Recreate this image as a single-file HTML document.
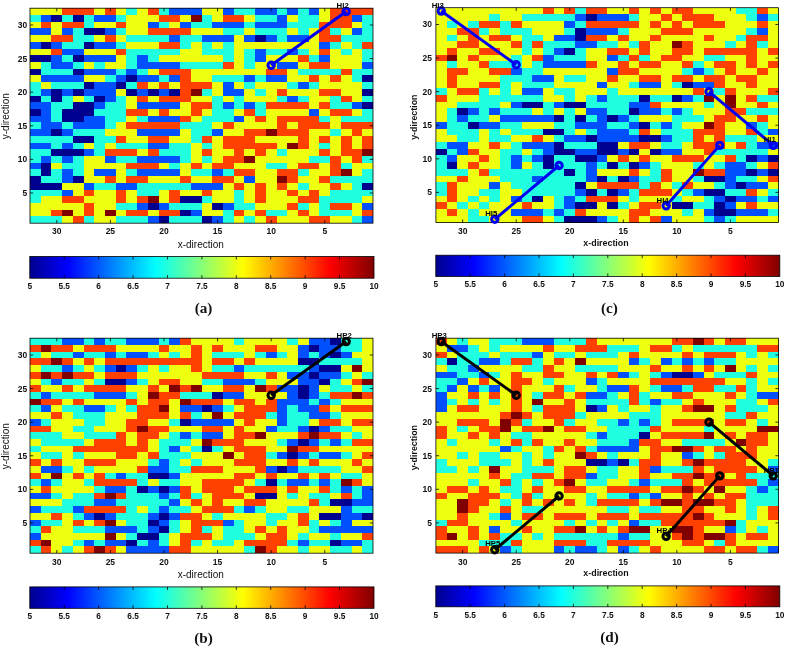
<!DOCTYPE html>
<html><head><meta charset="utf-8"><title>figure</title><style>html,body{margin:0;padding:0;background:#fff}svg{display:block;filter:blur(0.35px)}</style></head><body>
<svg width="785" height="647" viewBox="0 0 785 647">
<defs><linearGradient id="jet" x1="0" x2="1" y1="0" y2="0"><stop offset="0" stop-color="#00008f"/><stop offset="0.111" stop-color="#0000ff"/><stop offset="0.365" stop-color="#00ffff"/><stop offset="0.619" stop-color="#ffff00"/><stop offset="0.873" stop-color="#ff0000"/><stop offset="1" stop-color="#800000"/></linearGradient></defs>
<rect width="785" height="647" fill="#fff"/>
<g shape-rendering="crispEdges">
<rect x="30" y="8.2" width="343" height="215" fill="#efff10"/>
<path fill="#20ffdf" d="M126.47 8.2H137.19V14.92H126.47zM158.62 8.2H169.34V14.92H158.62zM233.66 8.2H255.09V14.92H233.66zM276.53 8.2H287.25V14.92H276.53zM297.97 8.2H308.69V14.92H297.97zM30 14.92H40.72V21.64H30zM62.16 14.92H72.88V21.64H62.16zM83.59 14.92H94.31V21.64H83.59zM115.75 14.92H126.47V21.64H115.75zM201.5 14.92H212.22V21.64H201.5zM255.09 14.92H276.53V21.64H255.09zM297.97 14.92H319.41V21.64H297.97zM362.28 14.92H373V21.64H362.28zM83.59 21.64H94.31V28.36H83.59zM158.62 21.64H169.34V28.36H158.62zM190.78 21.64H212.22V28.36H190.78zM244.38 21.64H255.09V28.36H244.38zM287.25 21.64H319.41V28.36H287.25zM362.28 21.64H373V28.36H362.28zM72.88 28.36H83.59V35.08H72.88zM115.75 28.36H126.47V35.08H115.75zM222.94 28.36H244.38V35.08H222.94zM255.09 28.36H287.25V35.08H255.09zM297.97 28.36H308.69V35.08H297.97zM330.12 28.36H340.84V35.08H330.12zM362.28 28.36H373V35.08H362.28zM72.88 35.08H94.31V41.79H72.88zM126.47 35.08H169.34V41.79H126.47zM180.06 35.08H201.5V41.79H180.06zM276.53 35.08H287.25V41.79H276.53zM340.84 35.08H373V41.79H340.84zM62.16 41.79H83.59V48.51H62.16zM115.75 41.79H126.47V48.51H115.75zM180.06 41.79H190.78V48.51H180.06zM201.5 41.79H212.22V48.51H201.5zM222.94 41.79H233.66V48.51H222.94zM330.12 41.79H340.84V48.51H330.12zM351.56 41.79H362.28V48.51H351.56zM126.47 48.51H180.06V55.23H126.47zM201.5 48.51H233.66V55.23H201.5zM244.38 48.51H255.09V55.23H244.38zM265.81 48.51H287.25V55.23H265.81zM297.97 48.51H308.69V55.23H297.97zM340.84 48.51H351.56V55.23H340.84zM362.28 48.51H373V55.23H362.28zM62.16 55.23H72.88V61.95H62.16zM126.47 55.23H137.19V61.95H126.47zM147.91 55.23H158.62V61.95H147.91zM222.94 55.23H233.66V61.95H222.94zM244.38 55.23H255.09V61.95H244.38zM308.69 55.23H319.41V61.95H308.69zM362.28 55.23H373V61.95H362.28zM40.72 61.95H51.44V68.67H40.72zM72.88 61.95H83.59V68.67H72.88zM94.31 61.95H105.03V68.67H94.31zM126.47 61.95H137.19V68.67H126.47zM180.06 61.95H222.94V68.67H180.06zM244.38 61.95H255.09V68.67H244.38zM40.72 68.67H72.88V75.39H40.72zM115.75 68.67H126.47V75.39H115.75zM137.19 68.67H147.91V75.39H137.19zM297.97 68.67H340.84V75.39H297.97zM351.56 68.67H373V75.39H351.56zM105.03 75.39H115.75V82.11H105.03zM158.62 75.39H169.34V82.11H158.62zM212.22 75.39H244.38V82.11H212.22zM255.09 75.39H265.81V82.11H255.09zM351.56 75.39H362.28V82.11H351.56zM30 82.11H40.72V88.83H30zM51.44 82.11H83.59V88.83H51.44zM126.47 82.11H137.19V88.83H126.47zM244.38 82.11H255.09V88.83H244.38zM287.25 82.11H297.97V88.83H287.25zM308.69 82.11H319.41V88.83H308.69zM362.28 82.11H373V88.83H362.28zM30 88.83H40.72V95.54H30zM201.5 88.83H212.22V95.54H201.5zM255.09 88.83H265.81V95.54H255.09zM40.72 95.54H51.44V102.26H40.72zM62.16 95.54H72.88V102.26H62.16zM83.59 95.54H94.31V102.26H83.59zM115.75 95.54H126.47V102.26H115.75zM212.22 95.54H222.94V102.26H212.22zM233.66 95.54H244.38V102.26H233.66zM276.53 95.54H287.25V102.26H276.53zM297.97 95.54H308.69V102.26H297.97zM330.12 95.54H340.84V102.26H330.12zM362.28 95.54H373V102.26H362.28zM51.44 102.26H72.88V108.98H51.44zM105.03 102.26H126.47V108.98H105.03zM212.22 102.26H222.94V108.98H212.22zM233.66 102.26H244.38V108.98H233.66zM255.09 102.26H265.81V108.98H255.09zM330.12 102.26H351.56V108.98H330.12zM51.44 108.98H62.16V115.7H51.44zM94.31 108.98H126.47V115.7H94.31zM212.22 108.98H233.66V115.7H212.22zM255.09 108.98H265.81V115.7H255.09zM362.28 108.98H373V115.7H362.28zM51.44 115.7H62.16V122.42H51.44zM105.03 115.7H126.47V122.42H105.03zM137.19 115.7H147.91V122.42H137.19zM201.5 115.7H233.66V122.42H201.5zM319.41 115.7H330.12V122.42H319.41zM340.84 115.7H373V122.42H340.84zM30 122.42H40.72V129.14H30zM62.16 122.42H72.88V129.14H62.16zM105.03 122.42H115.75V129.14H105.03zM180.06 122.42H212.22V129.14H180.06zM72.88 129.14H105.03V135.86H72.88zM190.78 129.14H212.22V135.86H190.78zM330.12 129.14H340.84V135.86H330.12zM30 135.86H72.88V142.57H30zM94.31 135.86H115.75V142.57H94.31zM190.78 135.86H201.5V142.57H190.78zM51.44 142.57H62.16V149.29H51.44zM72.88 142.57H83.59V149.29H72.88zM94.31 142.57H105.03V149.29H94.31zM115.75 142.57H147.91V149.29H115.75zM169.34 142.57H190.78V149.29H169.34zM201.5 142.57H212.22V149.29H201.5zM319.41 142.57H330.12V149.29H319.41zM30 149.29H51.44V156.01H30zM94.31 149.29H105.03V156.01H94.31zM158.62 149.29H190.78V156.01H158.62zM276.53 149.29H287.25V156.01H276.53zM30 156.01H40.72V162.73H30zM51.44 156.01H62.16V162.73H51.44zM72.88 156.01H83.59V162.73H72.88zM115.75 156.01H137.19V162.73H115.75zM180.06 156.01H190.78V162.73H180.06zM201.5 156.01H212.22V162.73H201.5zM308.69 156.01H330.12V162.73H308.69zM362.28 156.01H373V162.73H362.28zM62.16 162.73H83.59V169.45H62.16zM169.34 162.73H180.06V169.45H169.34zM265.81 162.73H287.25V169.45H265.81zM340.84 162.73H351.56V169.45H340.84zM30 169.45H40.72V176.17H30zM51.44 169.45H62.16V176.17H51.44zM72.88 169.45H83.59V176.17H72.88zM126.47 169.45H137.19V176.17H126.47zM190.78 169.45H212.22V176.17H190.78zM222.94 169.45H233.66V176.17H222.94zM297.97 169.45H308.69V176.17H297.97zM362.28 169.45H373V176.17H362.28zM40.72 176.17H62.16V182.89H40.72zM330.12 176.17H373V182.89H330.12zM94.31 182.89H115.75V189.61H94.31zM137.19 182.89H190.78V189.61H137.19zM297.97 182.89H308.69V189.61H297.97zM351.56 182.89H362.28V189.61H351.56zM30 189.61H62.16V196.32H30zM137.19 189.61H158.62V196.32H137.19zM233.66 189.61H244.38V196.32H233.66zM330.12 189.61H373V196.32H330.12zM30 196.32H40.72V203.04H30zM201.5 196.32H212.22V203.04H201.5zM233.66 196.32H244.38V203.04H233.66zM319.41 196.32H362.28V203.04H319.41zM115.75 203.04H137.19V209.76H115.75zM169.34 203.04H201.5V209.76H169.34zM233.66 203.04H255.09V209.76H233.66zM297.97 203.04H308.69V209.76H297.97zM319.41 203.04H330.12V209.76H319.41zM222.94 209.76H233.66V216.48H222.94zM265.81 209.76H287.25V216.48H265.81zM319.41 209.76H351.56V216.48H319.41zM30 216.48H62.16V223.2H30zM83.59 216.48H94.31V223.2H83.59zM115.75 216.48H147.91V223.2H115.75zM169.34 216.48H201.5V223.2H169.34zM222.94 216.48H233.66V223.2H222.94zM244.38 216.48H255.09V223.2H244.38zM351.56 216.48H362.28V223.2H351.56z"/>
<path fill="#0050ff" d="M169.34 8.2H201.5V14.92H169.34zM222.94 8.2H233.66V14.92H222.94zM255.09 8.2H276.53V14.92H255.09zM287.25 8.2H297.97V14.92H287.25zM308.69 8.2H319.41V14.92H308.69zM40.72 14.92H51.44V21.64H40.72zM94.31 14.92H115.75V21.64H94.31zM276.53 14.92H287.25V21.64H276.53zM351.56 14.92H362.28V21.64H351.56zM147.91 21.64H158.62V28.36H147.91zM180.06 21.64H190.78V28.36H180.06zM212.22 21.64H244.38V28.36H212.22zM255.09 21.64H287.25V28.36H255.09zM30 28.36H51.44V35.08H30zM62.16 28.36H72.88V35.08H62.16zM105.03 28.36H115.75V35.08H105.03zM351.56 28.36H362.28V35.08H351.56zM169.34 35.08H180.06V41.79H169.34zM201.5 35.08H233.66V41.79H201.5zM244.38 35.08H255.09V41.79H244.38zM265.81 35.08H276.53V41.79H265.81zM287.25 35.08H308.69V41.79H287.25zM30 41.79H40.72V48.51H30zM51.44 41.79H62.16V48.51H51.44zM94.31 41.79H115.75V48.51H94.31zM319.41 41.79H330.12V48.51H319.41zM62.16 48.51H83.59V55.23H62.16zM255.09 48.51H265.81V55.23H255.09zM287.25 48.51H297.97V55.23H287.25zM51.44 55.23H62.16V61.95H51.44zM83.59 55.23H115.75V61.95H83.59zM137.19 55.23H147.91V61.95H137.19zM255.09 55.23H265.81V61.95H255.09zM319.41 55.23H330.12V61.95H319.41zM51.44 61.95H72.88V68.67H51.44zM137.19 61.95H180.06V68.67H137.19zM276.53 61.95H297.97V68.67H276.53zM362.28 61.95H373V68.67H362.28zM83.59 68.67H115.75V75.39H83.59zM126.47 68.67H137.19V75.39H126.47zM40.72 75.39H83.59V82.11H40.72zM115.75 75.39H126.47V82.11H115.75zM137.19 75.39H158.62V82.11H137.19zM169.34 75.39H180.06V82.11H169.34zM244.38 75.39H255.09V82.11H244.38zM265.81 75.39H287.25V82.11H265.81zM94.31 82.11H115.75V88.83H94.31zM222.94 82.11H233.66V88.83H222.94zM297.97 82.11H308.69V88.83H297.97zM40.72 88.83H51.44V95.54H40.72zM62.16 88.83H72.88V95.54H62.16zM83.59 88.83H115.75V95.54H83.59zM137.19 88.83H147.91V95.54H137.19zM158.62 88.83H169.34V95.54H158.62zM222.94 88.83H244.38V95.54H222.94zM105.03 95.54H115.75V102.26H105.03zM287.25 95.54H297.97V102.26H287.25zM30 102.26H51.44V108.98H30zM94.31 102.26H105.03V108.98H94.31zM137.19 102.26H180.06V108.98H137.19zM222.94 102.26H233.66V108.98H222.94zM244.38 102.26H255.09V108.98H244.38zM351.56 102.26H362.28V108.98H351.56zM40.72 108.98H51.44V115.7H40.72zM308.69 108.98H319.41V115.7H308.69zM30 115.7H51.44V122.42H30zM83.59 115.7H105.03V122.42H83.59zM147.91 115.7H180.06V122.42H147.91zM233.66 115.7H244.38V122.42H233.66zM40.72 122.42H62.16V129.14H40.72zM72.88 122.42H105.03V129.14H72.88zM30 129.14H51.44V135.86H30zM62.16 129.14H72.88V135.86H62.16zM137.19 129.14H180.06V135.86H137.19zM212.22 129.14H222.94V135.86H212.22zM30 142.57H51.44V149.29H30zM62.16 142.57H72.88V149.29H62.16zM147.91 142.57H169.34V149.29H147.91zM83.59 149.29H94.31V156.01H83.59zM40.72 156.01H51.44V162.73H40.72zM62.16 156.01H72.88V162.73H62.16zM105.03 156.01H115.75V162.73H105.03zM137.19 156.01H180.06V162.73H137.19zM30 162.73H40.72V169.45H30zM62.16 169.45H72.88V176.17H62.16zM94.31 169.45H115.75V176.17H94.31zM137.19 169.45H180.06V176.17H137.19zM212.22 169.45H222.94V176.17H212.22zM62.16 176.17H72.88V182.89H62.16zM244.38 176.17H255.09V182.89H244.38zM83.59 182.89H94.31V189.61H83.59zM115.75 182.89H137.19V189.61H115.75zM190.78 182.89H222.94V189.61H190.78zM62.16 189.61H72.88V196.32H62.16zM137.19 203.04H147.91V209.76H137.19zM158.62 203.04H169.34V209.76H158.62zM222.94 203.04H233.66V209.76H222.94zM362.28 203.04H373V209.76H362.28zM190.78 209.76H201.5V216.48H190.78zM147.91 216.48H158.62V223.2H147.91zM212.22 216.48H222.94V223.2H212.22zM362.28 216.48H373V223.2H362.28z"/>
<path fill="#00008f" d="M51.44 14.92H62.16V21.64H51.44zM72.88 14.92H83.59V21.64H72.88zM83.59 28.36H105.03V35.08H83.59zM255.09 35.08H265.81V41.79H255.09zM40.72 41.79H51.44V48.51H40.72zM83.59 41.79H94.31V48.51H83.59zM30 55.23H51.44V61.95H30zM72.88 55.23H83.59V61.95H72.88zM30 68.67H40.72V75.39H30zM72.88 68.67H83.59V75.39H72.88zM126.47 75.39H137.19V82.11H126.47zM362.28 75.39H373V82.11H362.28zM83.59 82.11H94.31V88.83H83.59zM115.75 82.11H126.47V88.83H115.75zM51.44 88.83H62.16V95.54H51.44zM72.88 88.83H83.59V95.54H72.88zM126.47 88.83H137.19V95.54H126.47zM147.91 88.83H158.62V95.54H147.91zM169.34 88.83H180.06V95.54H169.34zM362.28 88.83H373V95.54H362.28zM30 95.54H40.72V102.26H30zM51.44 95.54H62.16V102.26H51.44zM94.31 95.54H105.03V102.26H94.31zM72.88 102.26H94.31V108.98H72.88zM362.28 102.26H373V108.98H362.28zM30 108.98H40.72V115.7H30zM62.16 108.98H94.31V115.7H62.16zM62.16 115.7H83.59V122.42H62.16zM51.44 129.14H62.16V135.86H51.44zM72.88 135.86H94.31V142.57H72.88zM51.44 149.29H83.59V156.01H51.44zM40.72 162.73H51.44V169.45H40.72zM40.72 169.45H51.44V176.17H40.72zM30 176.17H40.72V182.89H30zM72.88 176.17H83.59V182.89H72.88zM30 182.89H62.16V189.61H30zM362.28 182.89H373V189.61H362.28zM180.06 196.32H201.5V203.04H180.06zM147.91 203.04H158.62V209.76H147.91zM212.22 203.04H222.94V209.76H212.22zM180.06 209.76H190.78V216.48H180.06zM158.62 216.48H169.34V223.2H158.62zM201.5 216.48H212.22V223.2H201.5z"/>
<path fill="#ff4000" d="M62.16 8.2H94.31V14.92H62.16zM105.03 8.2H115.75V14.92H105.03zM147.91 8.2H158.62V14.92H147.91zM330.12 8.2H373V14.92H330.12zM158.62 14.92H180.06V21.64H158.62zM222.94 14.92H244.38V21.64H222.94zM330.12 14.92H351.56V21.64H330.12zM40.72 21.64H51.44V28.36H40.72zM62.16 21.64H83.59V28.36H62.16zM115.75 21.64H126.47V28.36H115.75zM319.41 21.64H351.56V28.36H319.41zM147.91 28.36H190.78V35.08H147.91zM319.41 28.36H330.12V35.08H319.41zM51.44 35.08H72.88V41.79H51.44zM105.03 35.08H115.75V41.79H105.03zM319.41 35.08H340.84V41.79H319.41zM158.62 41.79H180.06V48.51H158.62zM362.28 41.79H373V48.51H362.28zM51.44 48.51H62.16V55.23H51.44zM115.75 48.51H126.47V55.23H115.75zM319.41 48.51H330.12V55.23H319.41zM297.97 55.23H308.69V61.95H297.97zM222.94 61.95H233.66V68.67H222.94zM308.69 61.95H330.12V68.67H308.69zM158.62 68.67H190.78V75.39H158.62zM265.81 68.67H287.25V75.39H265.81zM340.84 68.67H351.56V75.39H340.84zM180.06 75.39H190.78V82.11H180.06zM308.69 75.39H319.41V82.11H308.69zM330.12 75.39H340.84V82.11H330.12zM137.19 82.11H147.91V88.83H137.19zM158.62 82.11H169.34V88.83H158.62zM180.06 82.11H212.22V88.83H180.06zM180.06 88.83H190.78V95.54H180.06zM276.53 88.83H287.25V95.54H276.53zM319.41 88.83H340.84V95.54H319.41zM137.19 95.54H147.91V102.26H137.19zM158.62 95.54H190.78V102.26H158.62zM340.84 95.54H351.56V102.26H340.84zM190.78 102.26H212.22V108.98H190.78zM265.81 102.26H308.69V108.98H265.81zM319.41 102.26H330.12V108.98H319.41zM126.47 108.98H147.91V115.7H126.47zM158.62 108.98H169.34V115.7H158.62zM190.78 108.98H201.5V115.7H190.78zM244.38 108.98H255.09V115.7H244.38zM330.12 108.98H351.56V115.7H330.12zM180.06 115.7H190.78V122.42H180.06zM255.09 115.7H265.81V122.42H255.09zM276.53 115.7H319.41V122.42H276.53zM126.47 122.42H180.06V129.14H126.47zM222.94 122.42H233.66V129.14H222.94zM276.53 122.42H287.25V129.14H276.53zM297.97 122.42H330.12V129.14H297.97zM340.84 122.42H373V129.14H340.84zM244.38 129.14H265.81V135.86H244.38zM276.53 129.14H308.69V135.86H276.53zM351.56 129.14H362.28V135.86H351.56zM115.75 135.86H126.47V142.57H115.75zM147.91 135.86H169.34V142.57H147.91zM201.5 135.86H212.22V142.57H201.5zM222.94 135.86H255.09V142.57H222.94zM297.97 135.86H308.69V142.57H297.97zM319.41 135.86H330.12V142.57H319.41zM340.84 135.86H351.56V142.57H340.84zM362.28 135.86H373V142.57H362.28zM222.94 142.57H276.53V149.29H222.94zM297.97 142.57H308.69V149.29H297.97zM340.84 142.57H351.56V149.29H340.84zM362.28 142.57H373V149.29H362.28zM105.03 149.29H137.19V156.01H105.03zM147.91 149.29H158.62V156.01H147.91zM201.5 149.29H212.22V156.01H201.5zM233.66 149.29H244.38V156.01H233.66zM255.09 149.29H265.81V156.01H255.09zM319.41 149.29H330.12V156.01H319.41zM340.84 149.29H362.28V156.01H340.84zM222.94 156.01H244.38V162.73H222.94zM330.12 156.01H340.84V162.73H330.12zM351.56 156.01H362.28V162.73H351.56zM126.47 162.73H158.62V169.45H126.47zM190.78 162.73H201.5V169.45H190.78zM212.22 162.73H233.66V169.45H212.22zM297.97 162.73H319.41V169.45H297.97zM330.12 162.73H340.84V169.45H330.12zM233.66 169.45H255.09V176.17H233.66zM276.53 169.45H297.97V176.17H276.53zM330.12 169.45H340.84V176.17H330.12zM105.03 176.17H115.75V182.89H105.03zM126.47 176.17H147.91V182.89H126.47zM180.06 176.17H190.78V182.89H180.06zM212.22 176.17H233.66V182.89H212.22zM287.25 176.17H297.97V182.89H287.25zM319.41 176.17H330.12V182.89H319.41zM233.66 182.89H244.38V189.61H233.66zM255.09 182.89H265.81V189.61H255.09zM276.53 182.89H287.25V189.61H276.53zM330.12 182.89H340.84V189.61H330.12zM83.59 189.61H94.31V196.32H83.59zM115.75 189.61H126.47V196.32H115.75zM169.34 189.61H180.06V196.32H169.34zM201.5 189.61H212.22V196.32H201.5zM255.09 189.61H265.81V196.32H255.09zM287.25 189.61H297.97V196.32H287.25zM308.69 189.61H319.41V196.32H308.69zM62.16 196.32H83.59V203.04H62.16zM115.75 196.32H126.47V203.04H115.75zM137.19 196.32H147.91V203.04H137.19zM169.34 196.32H180.06V203.04H169.34zM255.09 196.32H265.81V203.04H255.09zM297.97 196.32H319.41V203.04H297.97zM83.59 203.04H94.31V209.76H83.59zM287.25 203.04H297.97V209.76H287.25zM330.12 203.04H351.56V209.76H330.12zM51.44 209.76H62.16V216.48H51.44zM83.59 209.76H94.31V216.48H83.59zM126.47 209.76H147.91V216.48H126.47zM158.62 209.76H180.06V216.48H158.62zM233.66 209.76H244.38V216.48H233.66zM255.09 209.76H265.81V216.48H255.09zM297.97 209.76H308.69V216.48H297.97zM362.28 209.76H373V216.48H362.28zM72.88 216.48H83.59V223.2H72.88zM265.81 216.48H276.53V223.2H265.81zM308.69 216.48H330.12V223.2H308.69z"/>
<path fill="#800000" d="M190.78 14.92H201.5V21.64H190.78zM190.78 88.83H201.5V95.54H190.78zM265.81 129.14H276.53V135.86H265.81zM287.25 142.57H297.97V149.29H287.25zM362.28 149.29H373V156.01H362.28zM244.38 156.01H255.09V162.73H244.38zM340.84 169.45H351.56V176.17H340.84zM276.53 176.17H287.25V182.89H276.53zM147.91 196.32H158.62V203.04H147.91zM62.16 209.76H72.88V216.48H62.16zM105.03 209.76H115.75V216.48H105.03z"/>
</g>
<rect x="30" y="8.2" width="343" height="215" fill="none" stroke="#000" stroke-width="0.8"/>
<path d="M324.77 223.2v-3.2M324.77 8.2v3.2M30 192.97h3.2M373 192.97h-3.2M271.17 223.2v-3.2M271.17 8.2v3.2M30 159.37h3.2M373 159.37h-3.2M217.58 223.2v-3.2M217.58 8.2v3.2M30 125.78h3.2M373 125.78h-3.2M163.98 223.2v-3.2M163.98 8.2v3.2M30 92.18h3.2M373 92.18h-3.2M110.39 223.2v-3.2M110.39 8.2v3.2M30 58.59h3.2M373 58.59h-3.2M56.8 223.2v-3.2M56.8 8.2v3.2M30 25h3.2M373 25h-3.2" stroke="#000" stroke-width="0.8" fill="none"/>
<g font-family="'Liberation Sans',Arial,sans-serif" font-size="8.5" font-weight="bold" fill="#111">
<text x="324.77" y="233.8" text-anchor="middle">5</text>
<text x="27.2" y="195.97" text-anchor="end">5</text>
<text x="271.17" y="233.8" text-anchor="middle">10</text>
<text x="27.2" y="162.37" text-anchor="end">10</text>
<text x="217.58" y="233.8" text-anchor="middle">15</text>
<text x="27.2" y="128.78" text-anchor="end">15</text>
<text x="163.98" y="233.8" text-anchor="middle">20</text>
<text x="27.2" y="95.18" text-anchor="end">20</text>
<text x="110.39" y="233.8" text-anchor="middle">25</text>
<text x="27.2" y="61.59" text-anchor="end">25</text>
<text x="56.8" y="233.8" text-anchor="middle">30</text>
<text x="27.2" y="28" text-anchor="end">30</text>
</g>
<text font-family="'Liberation Sans',Arial,sans-serif" font-size="10" fill="#111" x="200.8" y="247.9" text-anchor="middle">x-direction</text>
<text font-family="'Liberation Sans',Arial,sans-serif" font-size="10" fill="#111" transform="translate(9.3 116.2) rotate(-90)" text-anchor="middle">y-direction</text>
<rect x="29.8" y="256.5" width="344.2" height="21.7" fill="url(#jet)" stroke="#000" stroke-width="0.8"/>
<g font-family="'Liberation Sans',Arial,sans-serif" font-size="8.3" font-weight="bold" fill="#111">
<text x="29.8" y="289.3" text-anchor="middle">5</text>
<text x="64.22" y="289.3" text-anchor="middle">5.5</text>
<text x="98.64" y="289.3" text-anchor="middle">6</text>
<text x="133.06" y="289.3" text-anchor="middle">6.5</text>
<text x="167.48" y="289.3" text-anchor="middle">7</text>
<text x="201.9" y="289.3" text-anchor="middle">7.5</text>
<text x="236.32" y="289.3" text-anchor="middle">8</text>
<text x="270.74" y="289.3" text-anchor="middle">8.5</text>
<text x="305.16" y="289.3" text-anchor="middle">9</text>
<text x="339.58" y="289.3" text-anchor="middle">9.5</text>
<text x="374" y="289.3" text-anchor="middle">10</text>
</g>
<path d="M64.22 278.2v-3M64.22 256.5v3M98.64 278.2v-3M98.64 256.5v3M133.06 278.2v-3M133.06 256.5v3M167.48 278.2v-3M167.48 256.5v3M201.9 278.2v-3M201.9 256.5v3M236.32 278.2v-3M236.32 256.5v3M270.74 278.2v-3M270.74 256.5v3M305.16 278.2v-3M305.16 256.5v3M339.58 278.2v-3M339.58 256.5v3" stroke="#000" stroke-width="0.8" fill="none"/>
<text font-family="'Liberation Serif','Times New Roman',serif" font-size="15.2" font-weight="bold" fill="#111" x="203.5" y="313.1" text-anchor="middle">(a)</text>
<g stroke="#0000f0" stroke-width="3.0" fill="none"><path d="M271.17 65.31L346.2 11.56"/><circle cx="271.17" cy="65.31" r="3.2"/><circle cx="346.2" cy="11.56" r="3.2"/></g>
<text font-family="'Liberation Sans',Arial,sans-serif" font-size="7.8" font-weight="bold" fill="#000" x="336.6" y="8.26">HI2</text>
<g shape-rendering="crispEdges">
<rect x="30" y="338.2" width="343" height="215" fill="#efff10"/>
<path fill="#20ffdf" d="M30 338.2H62.16V344.92H30zM83.59 338.2H94.31V344.92H83.59zM105.03 338.2H126.47V344.92H105.03zM158.62 338.2H169.34V344.92H158.62zM233.66 338.2H244.38V344.92H233.66zM287.25 338.2H297.97V344.92H287.25zM340.84 338.2H362.28V344.92H340.84zM340.84 344.92H362.28V351.64H340.84zM30 351.64H40.72V358.36H30zM51.44 351.64H72.88V358.36H51.44zM83.59 351.64H105.03V358.36H83.59zM115.75 351.64H126.47V358.36H115.75zM147.91 351.64H158.62V358.36H147.91zM169.34 351.64H180.06V358.36H169.34zM212.22 351.64H244.38V358.36H212.22zM255.09 351.64H265.81V358.36H255.09zM276.53 351.64H287.25V358.36H276.53zM308.69 351.64H319.41V358.36H308.69zM319.41 358.36H362.28V365.07H319.41zM40.72 365.07H62.16V371.79H40.72zM72.88 365.07H83.59V371.79H72.88zM94.31 365.07H105.03V371.79H94.31zM137.19 365.07H147.91V371.79H137.19zM158.62 365.07H169.34V371.79H158.62zM212.22 365.07H233.66V371.79H212.22zM244.38 365.07H308.69V371.79H244.38zM340.84 371.79H351.56V378.51H340.84zM362.28 371.79H373V378.51H362.28zM40.72 378.51H51.44V385.23H40.72zM62.16 378.51H83.59V385.23H62.16zM94.31 378.51H105.03V385.23H94.31zM137.19 378.51H147.91V385.23H137.19zM201.5 378.51H222.94V385.23H201.5zM255.09 378.51H265.81V385.23H255.09zM330.12 378.51H340.84V385.23H330.12zM330.12 385.23H351.56V391.95H330.12zM362.28 385.23H373V391.95H362.28zM30 391.95H40.72V398.67H30zM51.44 391.95H94.31V398.67H51.44zM126.47 391.95H137.19V398.67H126.47zM180.06 391.95H212.22V398.67H180.06zM319.41 391.95H330.12V398.67H319.41zM308.69 398.67H319.41V405.39H308.69zM330.12 398.67H340.84V405.39H330.12zM30 405.39H40.72V412.11H30zM62.16 405.39H83.59V412.11H62.16zM105.03 405.39H115.75V412.11H105.03zM126.47 405.39H137.19V412.11H126.47zM222.94 405.39H233.66V412.11H222.94zM287.25 405.39H297.97V412.11H287.25zM72.88 412.11H105.03V418.82H72.88zM190.78 412.11H201.5V418.82H190.78zM265.81 412.11H276.53V418.82H265.81zM287.25 412.11H308.69V418.82H287.25zM330.12 412.11H340.84V418.82H330.12zM40.72 418.82H51.44V425.54H40.72zM83.59 418.82H105.03V425.54H83.59zM169.34 418.82H180.06V425.54H169.34zM287.25 418.82H308.69V425.54H287.25zM72.88 425.54H94.31V432.26H72.88zM276.53 425.54H297.97V432.26H276.53zM330.12 425.54H351.56V432.26H330.12zM30 432.26H62.16V438.98H30zM83.59 432.26H115.75V438.98H83.59zM169.34 432.26H180.06V438.98H169.34zM190.78 432.26H201.5V438.98H190.78zM351.56 432.26H362.28V438.98H351.56zM40.72 438.98H83.59V445.7H40.72zM158.62 438.98H190.78V445.7H158.62zM276.53 438.98H287.25V445.7H276.53zM319.41 438.98H330.12V445.7H319.41zM340.84 438.98H351.56V445.7H340.84zM30 445.7H40.72V452.42H30zM158.62 445.7H169.34V452.42H158.62zM190.78 445.7H201.5V452.42H190.78zM212.22 445.7H222.94V452.42H212.22zM40.72 452.42H62.16V459.14H40.72zM72.88 452.42H83.59V459.14H72.88zM158.62 452.42H190.78V459.14H158.62zM265.81 452.42H276.53V459.14H265.81zM308.69 452.42H319.41V459.14H308.69zM340.84 452.42H351.56V459.14H340.84zM147.91 459.14H158.62V465.86H147.91zM169.34 459.14H180.06V465.86H169.34zM190.78 459.14H201.5V465.86H190.78zM62.16 465.86H72.88V472.57H62.16zM83.59 465.86H94.31V472.57H83.59zM169.34 465.86H190.78V472.57H169.34zM297.97 465.86H340.84V472.57H297.97zM105.03 472.57H115.75V479.29H105.03zM126.47 472.57H147.91V479.29H126.47zM340.84 472.57H362.28V479.29H340.84zM30 479.29H40.72V486.01H30zM51.44 479.29H62.16V486.01H51.44zM83.59 479.29H94.31V486.01H83.59zM137.19 479.29H147.91V486.01H137.19zM158.62 479.29H180.06V486.01H158.62zM255.09 479.29H265.81V486.01H255.09zM276.53 479.29H287.25V486.01H276.53zM308.69 479.29H319.41V486.01H308.69zM330.12 479.29H340.84V486.01H330.12zM94.31 486.01H105.03V492.73H94.31zM126.47 486.01H137.19V492.73H126.47zM330.12 486.01H340.84V492.73H330.12zM351.56 486.01H362.28V492.73H351.56zM51.44 492.73H62.16V499.45H51.44zM72.88 492.73H94.31V499.45H72.88zM126.47 492.73H158.62V499.45H126.47zM169.34 492.73H180.06V499.45H169.34zM190.78 492.73H201.5V499.45H190.78zM287.25 492.73H297.97V499.45H287.25zM308.69 492.73H330.12V499.45H308.69zM351.56 492.73H362.28V499.45H351.56zM62.16 499.45H94.31V506.17H62.16zM115.75 499.45H169.34V506.17H115.75zM319.41 499.45H330.12V506.17H319.41zM40.72 506.17H72.88V512.89H40.72zM126.47 506.17H137.19V512.89H126.47zM147.91 506.17H158.62V512.89H147.91zM169.34 506.17H190.78V512.89H169.34zM233.66 506.17H244.38V512.89H233.66zM255.09 506.17H265.81V512.89H255.09zM287.25 506.17H308.69V512.89H287.25zM351.56 506.17H373V512.89H351.56zM72.88 512.89H83.59V519.61H72.88zM115.75 512.89H147.91V519.61H115.75zM212.22 512.89H222.94V519.61H212.22zM265.81 512.89H287.25V519.61H265.81zM40.72 519.61H62.16V526.33H40.72zM126.47 519.61H147.91V526.33H126.47zM169.34 519.61H180.06V526.33H169.34zM233.66 519.61H244.38V526.33H233.66zM265.81 519.61H276.53V526.33H265.81zM308.69 519.61H319.41V526.33H308.69zM330.12 519.61H340.84V526.33H330.12zM30 526.33H40.72V533.04H30zM72.88 526.33H105.03V533.04H72.88zM137.19 526.33H147.91V533.04H137.19zM169.34 526.33H180.06V533.04H169.34zM201.5 526.33H212.22V533.04H201.5zM222.94 526.33H244.38V533.04H222.94zM308.69 526.33H319.41V533.04H308.69zM126.47 533.04H137.19V539.76H126.47zM158.62 533.04H169.34V539.76H158.62zM222.94 533.04H255.09V539.76H222.94zM297.97 533.04H308.69V539.76H297.97zM330.12 533.04H340.84V539.76H330.12zM72.88 539.76H83.59V546.48H72.88zM94.31 539.76H105.03V546.48H94.31zM137.19 539.76H147.91V546.48H137.19zM158.62 539.76H169.34V546.48H158.62zM190.78 539.76H201.5V546.48H190.78zM212.22 539.76H233.66V546.48H212.22zM287.25 539.76H297.97V546.48H287.25zM308.69 539.76H330.12V546.48H308.69zM362.28 539.76H373V546.48H362.28zM30 546.48H40.72V553.2H30zM62.16 546.48H72.88V553.2H62.16zM244.38 546.48H255.09V553.2H244.38zM297.97 546.48H308.69V553.2H297.97zM330.12 546.48H351.56V553.2H330.12zM362.28 546.48H373V553.2H362.28z"/>
<path fill="#0050ff" d="M62.16 338.2H83.59V344.92H62.16zM94.31 338.2H105.03V344.92H94.31zM126.47 338.2H158.62V344.92H126.47zM169.34 338.2H180.06V344.92H169.34zM308.69 338.2H330.12V344.92H308.69zM297.97 344.92H308.69V351.64H297.97zM319.41 344.92H340.84V351.64H319.41zM72.88 351.64H83.59V358.36H72.88zM105.03 351.64H115.75V358.36H105.03zM126.47 351.64H147.91V358.36H126.47zM265.81 351.64H276.53V358.36H265.81zM297.97 351.64H308.69V358.36H297.97zM319.41 351.64H330.12V358.36H319.41zM340.84 351.64H351.56V358.36H340.84zM62.16 365.07H72.88V371.79H62.16zM105.03 365.07H115.75V371.79H105.03zM126.47 365.07H137.19V371.79H126.47zM233.66 365.07H244.38V371.79H233.66zM308.69 365.07H319.41V371.79H308.69zM287.25 371.79H308.69V378.51H287.25zM319.41 371.79H340.84V378.51H319.41zM51.44 378.51H62.16V385.23H51.44zM126.47 378.51H137.19V385.23H126.47zM222.94 378.51H255.09V385.23H222.94zM297.97 378.51H319.41V385.23H297.97zM276.53 385.23H297.97V391.95H276.53zM308.69 385.23H319.41V391.95H308.69zM40.72 391.95H51.44V398.67H40.72zM94.31 391.95H126.47V398.67H94.31zM222.94 391.95H244.38V398.67H222.94zM287.25 391.95H297.97V398.67H287.25zM308.69 391.95H319.41V398.67H308.69zM276.53 398.67H308.69V405.39H276.53zM319.41 398.67H330.12V405.39H319.41zM40.72 405.39H51.44V412.11H40.72zM83.59 405.39H105.03V412.11H83.59zM180.06 405.39H201.5V412.11H180.06zM212.22 405.39H222.94V412.11H212.22zM276.53 405.39H287.25V412.11H276.53zM297.97 405.39H319.41V412.11H297.97zM276.53 412.11H287.25V418.82H276.53zM308.69 412.11H330.12V418.82H308.69zM30 418.82H40.72V425.54H30zM190.78 418.82H233.66V425.54H190.78zM276.53 418.82H287.25V425.54H276.53zM265.81 425.54H276.53V432.26H265.81zM297.97 425.54H308.69V432.26H297.97zM319.41 425.54H330.12V432.26H319.41zM180.06 432.26H190.78V438.98H180.06zM201.5 432.26H222.94V438.98H201.5zM287.25 438.98H297.97V445.7H287.25zM308.69 438.98H319.41V445.7H308.69zM330.12 438.98H340.84V445.7H330.12zM169.34 445.7H180.06V452.42H169.34zM276.53 452.42H287.25V459.14H276.53zM297.97 452.42H308.69V459.14H297.97zM319.41 452.42H340.84V459.14H319.41zM158.62 459.14H169.34V465.86H158.62zM40.72 465.86H62.16V472.57H40.72zM147.91 465.86H169.34V472.57H147.91zM265.81 465.86H276.53V472.57H265.81zM287.25 465.86H297.97V472.57H287.25zM115.75 472.57H126.47V479.29H115.75zM169.34 472.57H180.06V479.29H169.34zM40.72 479.29H51.44V486.01H40.72zM287.25 479.29H308.69V486.01H287.25zM319.41 479.29H330.12V486.01H319.41zM105.03 486.01H126.47V492.73H105.03zM147.91 486.01H158.62V492.73H147.91zM169.34 486.01H180.06V492.73H169.34zM340.84 486.01H351.56V492.73H340.84zM362.28 486.01H373V492.73H362.28zM30 492.73H51.44V499.45H30zM158.62 492.73H169.34V499.45H158.62zM362.28 492.73H373V499.45H362.28zM94.31 499.45H115.75V506.17H94.31zM169.34 499.45H180.06V506.17H169.34zM351.56 499.45H373V506.17H351.56zM30 506.17H40.72V512.89H30zM72.88 506.17H83.59V512.89H72.88zM158.62 506.17H169.34V512.89H158.62zM244.38 506.17H255.09V512.89H244.38zM340.84 506.17H351.56V512.89H340.84zM83.59 512.89H94.31V519.61H83.59zM105.03 512.89H115.75V519.61H105.03zM147.91 512.89H158.62V519.61H147.91zM169.34 512.89H180.06V519.61H169.34zM340.84 512.89H362.28V519.61H340.84zM30 519.61H40.72V526.33H30zM158.62 519.61H169.34V526.33H158.62zM222.94 519.61H233.66V526.33H222.94zM340.84 519.61H351.56V526.33H340.84zM105.03 526.33H137.19V533.04H105.03zM147.91 526.33H158.62V533.04H147.91zM319.41 526.33H373V533.04H319.41zM30 533.04H40.72V539.76H30zM83.59 539.76H94.31V546.48H83.59zM105.03 539.76H126.47V546.48H105.03zM147.91 539.76H158.62V546.48H147.91zM297.97 539.76H308.69V546.48H297.97zM340.84 539.76H362.28V546.48H340.84zM126.47 546.48H169.34V553.2H126.47z"/>
<path fill="#00008f" d="M330.12 338.2H340.84V344.92H330.12zM308.69 344.92H319.41V351.64H308.69zM330.12 351.64H340.84V358.36H330.12zM297.97 358.36H319.41V365.07H297.97zM115.75 365.07H126.47V371.79H115.75zM319.41 365.07H340.84V371.79H319.41zM308.69 371.79H319.41V378.51H308.69zM105.03 378.51H126.47V385.23H105.03zM319.41 378.51H330.12V385.23H319.41zM297.97 385.23H308.69V391.95H297.97zM212.22 391.95H222.94V398.67H212.22zM297.97 391.95H308.69V398.67H297.97zM201.5 405.39H212.22V412.11H201.5zM180.06 418.82H190.78V425.54H180.06zM308.69 425.54H319.41V432.26H308.69zM297.97 438.98H308.69V445.7H297.97zM201.5 445.7H212.22V452.42H201.5zM287.25 452.42H297.97V459.14H287.25zM276.53 465.86H287.25V472.57H276.53zM147.91 472.57H169.34V479.29H147.91zM265.81 479.29H276.53V486.01H265.81zM137.19 486.01H147.91V492.73H137.19zM158.62 486.01H169.34V492.73H158.62zM255.09 492.73H276.53V499.45H255.09zM330.12 499.45H351.56V506.17H330.12zM94.31 512.89H105.03V519.61H94.31zM158.62 512.89H169.34V519.61H158.62zM319.41 512.89H340.84V519.61H319.41zM362.28 512.89H373V519.61H362.28zM147.91 519.61H158.62V526.33H147.91zM158.62 526.33H169.34V533.04H158.62zM137.19 533.04H158.62V539.76H137.19zM126.47 539.76H137.19V546.48H126.47zM330.12 539.76H340.84V546.48H330.12z"/>
<path fill="#ff4000" d="M180.06 338.2H190.78V344.92H180.06zM30 344.92H40.72V351.64H30zM51.44 344.92H72.88V351.64H51.44zM83.59 344.92H115.75V351.64H83.59zM158.62 344.92H169.34V351.64H158.62zM190.78 344.92H201.5V351.64H190.78zM212.22 344.92H222.94V351.64H212.22zM255.09 344.92H276.53V351.64H255.09zM190.78 351.64H201.5V358.36H190.78zM30 358.36H51.44V365.07H30zM62.16 358.36H72.88V365.07H62.16zM83.59 358.36H94.31V365.07H83.59zM105.03 358.36H201.5V365.07H105.03zM212.22 358.36H233.66V365.07H212.22zM244.38 358.36H255.09V365.07H244.38zM190.78 365.07H201.5V371.79H190.78zM30 371.79H40.72V378.51H30zM51.44 371.79H62.16V378.51H51.44zM72.88 371.79H94.31V378.51H72.88zM105.03 371.79H137.19V378.51H105.03zM201.5 371.79H244.38V378.51H201.5zM265.81 371.79H276.53V378.51H265.81zM158.62 378.51H180.06V385.23H158.62zM351.56 378.51H362.28V385.23H351.56zM30 385.23H40.72V391.95H30zM62.16 385.23H72.88V391.95H62.16zM83.59 385.23H126.47V391.95H83.59zM147.91 385.23H158.62V391.95H147.91zM180.06 385.23H190.78V391.95H180.06zM222.94 385.23H244.38V391.95H222.94zM265.81 385.23H276.53V391.95H265.81zM158.62 391.95H180.06V398.67H158.62zM330.12 391.95H351.56V398.67H330.12zM362.28 391.95H373V398.67H362.28zM40.72 398.67H62.16V405.39H40.72zM72.88 398.67H83.59V405.39H72.88zM126.47 398.67H137.19V405.39H126.47zM147.91 398.67H169.34V405.39H147.91zM190.78 398.67H222.94V405.39H190.78zM233.66 398.67H255.09V405.39H233.66zM265.81 398.67H276.53V405.39H265.81zM137.19 405.39H158.62V412.11H137.19zM244.38 405.39H276.53V412.11H244.38zM319.41 405.39H330.12V412.11H319.41zM340.84 405.39H373V412.11H340.84zM51.44 412.11H62.16V418.82H51.44zM137.19 412.11H169.34V418.82H137.19zM180.06 412.11H190.78V418.82H180.06zM233.66 412.11H265.81V418.82H233.66zM126.47 418.82H147.91V425.54H126.47zM244.38 418.82H255.09V425.54H244.38zM319.41 418.82H340.84V425.54H319.41zM351.56 418.82H373V425.54H351.56zM30 425.54H51.44V432.26H30zM126.47 425.54H137.19V432.26H126.47zM147.91 425.54H169.34V432.26H147.91zM201.5 425.54H222.94V432.26H201.5zM233.66 425.54H244.38V432.26H233.66zM115.75 432.26H126.47V438.98H115.75zM137.19 432.26H158.62V438.98H137.19zM233.66 432.26H255.09V438.98H233.66zM297.97 432.26H308.69V438.98H297.97zM319.41 432.26H340.84V438.98H319.41zM94.31 438.98H126.47V445.7H94.31zM137.19 438.98H147.91V445.7H137.19zM212.22 438.98H244.38V445.7H212.22zM351.56 438.98H373V445.7H351.56zM72.88 445.7H147.91V452.42H72.88zM233.66 445.7H265.81V452.42H233.66zM297.97 445.7H319.41V452.42H297.97zM115.75 452.42H137.19V459.14H115.75zM147.91 452.42H158.62V459.14H147.91zM244.38 452.42H265.81V459.14H244.38zM362.28 452.42H373V459.14H362.28zM30 459.14H40.72V465.86H30zM51.44 459.14H62.16V465.86H51.44zM83.59 459.14H115.75V465.86H83.59zM233.66 459.14H265.81V465.86H233.66zM287.25 459.14H297.97V465.86H287.25zM308.69 459.14H319.41V465.86H308.69zM351.56 459.14H362.28V465.86H351.56zM137.19 465.86H147.91V472.57H137.19zM190.78 465.86H222.94V472.57H190.78zM255.09 465.86H265.81V472.57H255.09zM362.28 465.86H373V472.57H362.28zM30 472.57H40.72V479.29H30zM72.88 472.57H83.59V479.29H72.88zM94.31 472.57H105.03V479.29H94.31zM233.66 472.57H255.09V479.29H233.66zM265.81 472.57H276.53V479.29H265.81zM297.97 472.57H308.69V479.29H297.97zM319.41 472.57H330.12V479.29H319.41zM94.31 479.29H137.19V486.01H94.31zM201.5 479.29H244.38V486.01H201.5zM351.56 479.29H362.28V486.01H351.56zM40.72 486.01H51.44V492.73H40.72zM180.06 486.01H190.78V492.73H180.06zM201.5 486.01H233.66V492.73H201.5zM244.38 486.01H276.53V492.73H244.38zM287.25 486.01H297.97V492.73H287.25zM319.41 486.01H330.12V492.73H319.41zM94.31 492.73H105.03V499.45H94.31zM115.75 492.73H126.47V499.45H115.75zM180.06 492.73H190.78V499.45H180.06zM212.22 492.73H244.38V499.45H212.22zM340.84 492.73H351.56V499.45H340.84zM190.78 499.45H201.5V506.17H190.78zM212.22 499.45H222.94V506.17H212.22zM244.38 499.45H265.81V506.17H244.38zM308.69 499.45H319.41V506.17H308.69zM83.59 506.17H126.47V512.89H83.59zM201.5 506.17H233.66V512.89H201.5zM51.44 512.89H62.16V519.61H51.44zM180.06 512.89H201.5V519.61H180.06zM297.97 512.89H308.69V519.61H297.97zM72.88 519.61H83.59V526.33H72.88zM94.31 519.61H105.03V526.33H94.31zM190.78 519.61H222.94V526.33H190.78zM297.97 519.61H308.69V526.33H297.97zM40.72 526.33H51.44V533.04H40.72zM190.78 526.33H201.5V533.04H190.78zM255.09 526.33H265.81V533.04H255.09zM276.53 526.33H287.25V533.04H276.53zM180.06 533.04H212.22V539.76H180.06zM265.81 533.04H287.25V539.76H265.81zM362.28 533.04H373V539.76H362.28zM30 539.76H40.72V546.48H30zM180.06 539.76H190.78V546.48H180.06zM244.38 539.76H287.25V546.48H244.38zM40.72 546.48H51.44V553.2H40.72zM83.59 546.48H94.31V553.2H83.59zM105.03 546.48H115.75V553.2H105.03zM169.34 546.48H190.78V553.2H169.34zM265.81 546.48H276.53V553.2H265.81z"/>
<path fill="#800000" d="M40.72 344.92H51.44V351.64H40.72zM51.44 358.36H62.16V365.07H51.44zM351.56 365.07H362.28V371.79H351.56zM40.72 371.79H51.44V378.51H40.72zM62.16 371.79H72.88V378.51H62.16zM362.28 378.51H373V385.23H362.28zM169.34 385.23H180.06V391.95H169.34zM190.78 385.23H201.5V391.95H190.78zM255.09 385.23H265.81V391.95H255.09zM147.91 391.95H158.62V398.67H147.91zM351.56 391.95H362.28V398.67H351.56zM30 398.67H40.72V405.39H30zM180.06 398.67H190.78V405.39H180.06zM158.62 405.39H169.34V412.11H158.62zM212.22 412.11H222.94V418.82H212.22zM137.19 425.54H147.91V432.26H137.19zM255.09 432.26H265.81V438.98H255.09zM308.69 432.26H319.41V438.98H308.69zM201.5 438.98H212.22V445.7H201.5zM287.25 445.7H297.97V452.42H287.25zM222.94 452.42H233.66V459.14H222.94zM51.44 472.57H62.16V479.29H51.44zM340.84 479.29H351.56V486.01H340.84zM105.03 492.73H115.75V499.45H105.03zM105.03 519.61H115.75V526.33H105.03zM105.03 533.04H115.75V539.76H105.03zM40.72 539.76H51.44V546.48H40.72zM94.31 546.48H105.03V553.2H94.31zM255.09 546.48H265.81V553.2H255.09z"/>
</g>
<rect x="30" y="338.2" width="343" height="215" fill="none" stroke="#000" stroke-width="0.8"/>
<path d="M324.77 553.2v-3.2M324.77 338.2v3.2M30 522.97h3.2M373 522.97h-3.2M271.17 553.2v-3.2M271.17 338.2v3.2M30 489.37h3.2M373 489.37h-3.2M217.58 553.2v-3.2M217.58 338.2v3.2M30 455.78h3.2M373 455.78h-3.2M163.98 553.2v-3.2M163.98 338.2v3.2M30 422.18h3.2M373 422.18h-3.2M110.39 553.2v-3.2M110.39 338.2v3.2M30 388.59h3.2M373 388.59h-3.2M56.8 553.2v-3.2M56.8 338.2v3.2M30 355h3.2M373 355h-3.2" stroke="#000" stroke-width="0.8" fill="none"/>
<g font-family="'Liberation Sans',Arial,sans-serif" font-size="8.5" font-weight="bold" fill="#111">
<text x="324.77" y="564.7" text-anchor="middle">5</text>
<text x="27.2" y="525.97" text-anchor="end">5</text>
<text x="271.17" y="564.7" text-anchor="middle">10</text>
<text x="27.2" y="492.37" text-anchor="end">10</text>
<text x="217.58" y="564.7" text-anchor="middle">15</text>
<text x="27.2" y="458.78" text-anchor="end">15</text>
<text x="163.98" y="564.7" text-anchor="middle">20</text>
<text x="27.2" y="425.18" text-anchor="end">20</text>
<text x="110.39" y="564.7" text-anchor="middle">25</text>
<text x="27.2" y="391.59" text-anchor="end">25</text>
<text x="56.8" y="564.7" text-anchor="middle">30</text>
<text x="27.2" y="358" text-anchor="end">30</text>
</g>
<text font-family="'Liberation Sans',Arial,sans-serif" font-size="10" fill="#111" x="200.8" y="578" text-anchor="middle">x-direction</text>
<text font-family="'Liberation Sans',Arial,sans-serif" font-size="10" fill="#111" transform="translate(9.3 446.2) rotate(-90)" text-anchor="middle">y-direction</text>
<rect x="29.8" y="586.9" width="344.2" height="21.4" fill="url(#jet)" stroke="#000" stroke-width="0.8"/>
<g font-family="'Liberation Sans',Arial,sans-serif" font-size="8.3" font-weight="bold" fill="#111">
<text x="29.8" y="619.4" text-anchor="middle">5</text>
<text x="64.22" y="619.4" text-anchor="middle">5.5</text>
<text x="98.64" y="619.4" text-anchor="middle">6</text>
<text x="133.06" y="619.4" text-anchor="middle">6.5</text>
<text x="167.48" y="619.4" text-anchor="middle">7</text>
<text x="201.9" y="619.4" text-anchor="middle">7.5</text>
<text x="236.32" y="619.4" text-anchor="middle">8</text>
<text x="270.74" y="619.4" text-anchor="middle">8.5</text>
<text x="305.16" y="619.4" text-anchor="middle">9</text>
<text x="339.58" y="619.4" text-anchor="middle">9.5</text>
<text x="374" y="619.4" text-anchor="middle">10</text>
</g>
<path d="M64.22 608.3v-3M64.22 586.9v3M98.64 608.3v-3M98.64 586.9v3M133.06 608.3v-3M133.06 586.9v3M167.48 608.3v-3M167.48 586.9v3M201.9 608.3v-3M201.9 586.9v3M236.32 608.3v-3M236.32 586.9v3M270.74 608.3v-3M270.74 586.9v3M305.16 608.3v-3M305.16 586.9v3M339.58 608.3v-3M339.58 586.9v3" stroke="#000" stroke-width="0.8" fill="none"/>
<text font-family="'Liberation Serif','Times New Roman',serif" font-size="15.2" font-weight="bold" fill="#111" x="203.5" y="642.7" text-anchor="middle">(b)</text>
<g stroke="#000000" stroke-width="3.0" fill="none"><path d="M271.17 395.31L346.2 341.56"/><circle cx="271.17" cy="395.31" r="3.2"/><circle cx="346.2" cy="341.56" r="3.2"/></g>
<text font-family="'Liberation Sans',Arial,sans-serif" font-size="7.8" font-weight="bold" fill="#000" x="336.6" y="338.26">HP2</text>
<g shape-rendering="crispEdges">
<rect x="435.9" y="7.7" width="342.7" height="214.9" fill="#efff10"/>
<path fill="#20ffdf" d="M575.12 7.7H585.83V14.42H575.12zM735.76 7.7H757.18V14.42H735.76zM489.45 14.42H500.16V21.13H489.45zM521.57 14.42H575.12V21.13H521.57zM628.67 14.42H639.38V21.13H628.67zM746.47 14.42H757.18V21.13H746.47zM767.89 14.42H778.6V21.13H767.89zM446.61 21.13H457.32V27.85H446.61zM468.03 21.13H478.74V27.85H468.03zM500.16 21.13H510.87V27.85H500.16zM575.12 21.13H585.83V27.85H575.12zM478.74 27.85H489.45V34.56H478.74zM500.16 27.85H532.28V34.56H500.16zM564.41 27.85H575.12V34.56H564.41zM617.96 27.85H628.67V34.56H617.96zM746.47 27.85H757.18V34.56H746.47zM446.61 34.56H457.32V41.28H446.61zM521.57 34.56H542.99V41.28H521.57zM735.76 34.56H746.47V41.28H735.76zM521.57 41.28H532.28V47.99H521.57zM542.99 41.28H575.12V47.99H542.99zM596.54 41.28H617.96V47.99H596.54zM628.67 41.28H639.38V47.99H628.67zM725.05 41.28H735.76V47.99H725.05zM757.18 41.28H767.89V47.99H757.18zM521.57 47.99H532.28V54.71H521.57zM542.99 47.99H553.7V54.71H542.99zM575.12 47.99H585.83V54.71H575.12zM510.87 54.71H521.57V61.43H510.87zM553.7 54.71H585.83V61.43H553.7zM617.96 54.71H628.67V61.43H617.96zM639.38 54.71H650.09V61.43H639.38zM703.63 54.71H725.05V61.43H703.63zM446.61 61.43H457.32V68.14H446.61zM489.45 61.43H521.57V68.14H489.45zM532.28 61.43H542.99V68.14H532.28zM692.92 61.43H703.63V68.14H692.92zM521.57 68.14H542.99V74.86H521.57zM682.22 68.14H692.92V74.86H682.22zM703.63 68.14H714.34V74.86H703.63zM500.16 74.86H532.28V81.57H500.16zM564.41 74.86H585.83V81.57H564.41zM500.16 81.57H510.87V88.29H500.16zM521.57 81.57H553.7V88.29H521.57zM628.67 81.57H639.38V88.29H628.67zM671.51 81.57H682.22V88.29H671.51zM435.9 88.29H446.61V95H435.9zM478.74 88.29H489.45V95H478.74zM500.16 88.29H510.87V95H500.16zM553.7 88.29H575.12V95H553.7zM607.25 88.29H617.96V95H607.25zM714.34 88.29H725.05V95H714.34zM478.74 95H542.99V101.72H478.74zM564.41 95H575.12V101.72H564.41zM585.83 95H596.54V101.72H585.83zM607.25 95H639.38V101.72H607.25zM650.09 95H671.51V101.72H650.09zM692.92 95H703.63V101.72H692.92zM757.18 95H778.6V101.72H757.18zM457.32 101.72H500.16V108.43H457.32zM542.99 101.72H553.7V108.43H542.99zM585.83 101.72H628.67V108.43H585.83zM703.63 101.72H714.34V108.43H703.63zM446.61 108.43H457.32V115.15H446.61zM478.74 108.43H489.45V115.15H478.74zM500.16 108.43H532.28V115.15H500.16zM542.99 108.43H553.7V115.15H542.99zM564.41 108.43H575.12V115.15H564.41zM607.25 108.43H628.67V115.15H607.25zM660.8 108.43H671.51V115.15H660.8zM682.22 108.43H692.92V115.15H682.22zM746.47 108.43H778.6V115.15H746.47zM446.61 115.15H457.32V121.87H446.61zM468.03 115.15H489.45V121.87H468.03zM564.41 115.15H575.12V121.87H564.41zM585.83 115.15H596.54V121.87H585.83zM628.67 115.15H639.38V121.87H628.67zM671.51 115.15H703.63V121.87H671.51zM446.61 121.87H468.03V128.58H446.61zM500.16 121.87H521.57V128.58H500.16zM553.7 121.87H575.12V128.58H553.7zM607.25 121.87H628.67V128.58H607.25zM650.09 121.87H660.8V128.58H650.09zM671.51 121.87H682.22V128.58H671.51zM757.18 121.87H767.89V128.58H757.18zM446.61 128.58H478.74V135.3H446.61zM489.45 128.58H500.16V135.3H489.45zM510.87 128.58H542.99V135.3H510.87zM564.41 128.58H575.12V135.3H564.41zM585.83 128.58H596.54V135.3H585.83zM628.67 128.58H639.38V135.3H628.67zM660.8 128.58H692.92V135.3H660.8zM757.18 128.58H767.89V135.3H757.18zM457.32 135.3H478.74V142.01H457.32zM489.45 135.3H510.87V142.01H489.45zM553.7 135.3H564.41V142.01H553.7zM671.51 135.3H692.92V142.01H671.51zM725.05 135.3H757.18V142.01H725.05zM435.9 142.01H446.61V148.73H435.9zM510.87 142.01H521.57V148.73H510.87zM564.41 142.01H596.54V148.73H564.41zM660.8 142.01H682.22V148.73H660.8zM746.47 142.01H757.18V148.73H746.47zM446.61 148.73H457.32V155.44H446.61zM500.16 148.73H521.57V155.44H500.16zM532.28 148.73H542.99V155.44H532.28zM714.34 148.73H767.89V155.44H714.34zM435.9 155.44H446.61V162.16H435.9zM500.16 155.44H510.87V162.16H500.16zM521.57 155.44H532.28V162.16H521.57zM553.7 155.44H575.12V162.16H553.7zM735.76 155.44H746.47V162.16H735.76zM435.9 162.16H446.61V168.88H435.9zM500.16 162.16H510.87V168.88H500.16zM532.28 162.16H542.99V168.88H532.28zM553.7 162.16H585.83V168.88H553.7zM596.54 162.16H607.25V168.88H596.54zM617.96 162.16H628.67V168.88H617.96zM650.09 162.16H660.8V168.88H650.09zM692.92 162.16H703.63V168.88H692.92zM714.34 162.16H725.05V168.88H714.34zM746.47 162.16H757.18V168.88H746.47zM435.9 168.88H468.03V175.59H435.9zM489.45 168.88H564.41V175.59H489.45zM575.12 168.88H585.83V175.59H575.12zM650.09 168.88H660.8V175.59H650.09zM500.16 175.59H532.28V182.31H500.16zM542.99 175.59H585.83V182.31H542.99zM607.25 175.59H617.96V182.31H607.25zM639.38 175.59H660.8V182.31H639.38zM692.92 175.59H703.63V182.31H692.92zM735.76 175.59H757.18V182.31H735.76zM435.9 182.31H446.61V189.02H435.9zM510.87 182.31H575.12V189.02H510.87zM639.38 182.31H650.09V189.02H639.38zM671.51 182.31H682.22V189.02H671.51zM714.34 182.31H725.05V189.02H714.34zM435.9 189.02H446.61V195.74H435.9zM478.74 189.02H500.16V195.74H478.74zM521.57 189.02H575.12V195.74H521.57zM596.54 189.02H607.25V195.74H596.54zM628.67 189.02H639.38V195.74H628.67zM682.22 189.02H692.92V195.74H682.22zM725.05 189.02H746.47V195.74H725.05zM767.89 189.02H778.6V195.74H767.89zM468.03 195.74H478.74V202.45H468.03zM489.45 195.74H500.16V202.45H489.45zM521.57 195.74H532.28V202.45H521.57zM553.7 195.74H564.41V202.45H553.7zM575.12 195.74H585.83V202.45H575.12zM628.67 195.74H639.38V202.45H628.67zM671.51 195.74H682.22V202.45H671.51zM703.63 195.74H714.34V202.45H703.63zM757.18 195.74H767.89V202.45H757.18zM457.32 202.45H468.03V209.17H457.32zM478.74 202.45H489.45V209.17H478.74zM553.7 202.45H564.41V209.17H553.7zM617.96 202.45H628.67V209.17H617.96zM692.92 202.45H714.34V209.17H692.92zM468.03 209.17H478.74V215.88H468.03zM542.99 209.17H553.7V215.88H542.99zM564.41 209.17H575.12V215.88H564.41zM682.22 209.17H692.92V215.88H682.22zM767.89 209.17H778.6V215.88H767.89zM468.03 215.88H489.45V222.6H468.03zM553.7 215.88H564.41V222.6H553.7zM607.25 215.88H617.96V222.6H607.25zM703.63 215.88H714.34V222.6H703.63zM725.05 215.88H735.76V222.6H725.05z"/>
<path fill="#0050ff" d="M575.12 14.42H585.83V21.13H575.12zM596.54 14.42H628.67V21.13H596.54zM757.18 14.42H767.89V21.13H757.18zM564.41 21.13H575.12V27.85H564.41zM585.83 27.85H617.96V34.56H585.83zM757.18 27.85H767.89V34.56H757.18zM553.7 34.56H575.12V41.28H553.7zM575.12 41.28H596.54V47.99H575.12zM553.7 47.99H564.41V54.71H553.7zM542.99 54.71H553.7V61.43H542.99zM607.25 54.71H617.96V61.43H607.25zM542.99 61.43H585.83V68.14H542.99zM510.87 68.14H521.57V74.86H510.87zM607.25 68.14H617.96V74.86H607.25zM692.92 68.14H703.63V74.86H692.92zM532.28 74.86H553.7V81.57H532.28zM596.54 81.57H607.25V88.29H596.54zM639.38 81.57H660.8V88.29H639.38zM692.92 81.57H714.34V88.29H692.92zM521.57 88.29H542.99V95H521.57zM596.54 95H607.25V101.72H596.54zM682.22 95H692.92V101.72H682.22zM510.87 101.72H521.57V108.43H510.87zM553.7 101.72H564.41V108.43H553.7zM628.67 101.72H650.09V108.43H628.67zM468.03 108.43H478.74V115.15H468.03zM489.45 108.43H500.16V115.15H489.45zM585.83 108.43H607.25V115.15H585.83zM639.38 108.43H660.8V115.15H639.38zM671.51 108.43H682.22V115.15H671.51zM457.32 115.15H468.03V121.87H457.32zM500.16 115.15H553.7V121.87H500.16zM596.54 115.15H607.25V121.87H596.54zM617.96 115.15H628.67V121.87H617.96zM435.9 121.87H446.61V128.58H435.9zM478.74 121.87H500.16V128.58H478.74zM575.12 121.87H607.25V128.58H575.12zM628.67 121.87H639.38V128.58H628.67zM660.8 121.87H671.51V128.58H660.8zM746.47 121.87H757.18V128.58H746.47zM596.54 128.58H628.67V135.3H596.54zM767.89 128.58H778.6V135.3H767.89zM564.41 135.3H585.83V142.01H564.41zM596.54 135.3H639.38V142.01H596.54zM660.8 135.3H671.51V142.01H660.8zM446.61 142.01H468.03V148.73H446.61zM521.57 142.01H553.7V148.73H521.57zM757.18 142.01H778.6V148.73H757.18zM457.32 148.73H468.03V155.44H457.32zM542.99 148.73H553.7V155.44H542.99zM575.12 148.73H596.54V155.44H575.12zM617.96 148.73H628.67V155.44H617.96zM660.8 148.73H682.22V155.44H660.8zM446.61 155.44H457.32V162.16H446.61zM510.87 155.44H521.57V162.16H510.87zM532.28 155.44H542.99V162.16H532.28zM596.54 155.44H607.25V162.16H596.54zM757.18 155.44H767.89V162.16H757.18zM510.87 162.16H521.57V168.88H510.87zM585.83 162.16H596.54V168.88H585.83zM639.38 162.16H650.09V168.88H639.38zM725.05 162.16H746.47V168.88H725.05zM585.83 168.88H596.54V175.59H585.83zM725.05 168.88H746.47V175.59H725.05zM757.18 168.88H767.89V175.59H757.18zM532.28 175.59H542.99V182.31H532.28zM585.83 175.59H596.54V182.31H585.83zM628.67 175.59H639.38V182.31H628.67zM725.05 175.59H735.76V182.31H725.05zM489.45 182.31H500.16V189.02H489.45zM725.05 182.31H735.76V189.02H725.05zM746.47 182.31H767.89V189.02H746.47zM575.12 189.02H585.83V195.74H575.12zM617.96 189.02H628.67V195.74H617.96zM692.92 189.02H703.63V195.74H692.92zM510.87 195.74H521.57V202.45H510.87zM564.41 195.74H575.12V202.45H564.41zM714.34 195.74H725.05V202.45H714.34zM735.76 195.74H757.18V202.45H735.76zM767.89 195.74H778.6V202.45H767.89zM564.41 202.45H575.12V209.17H564.41zM725.05 202.45H735.76V209.17H725.05zM510.87 209.17H542.99V215.88H510.87zM553.7 209.17H564.41V215.88H553.7zM703.63 209.17H714.34V215.88H703.63zM735.76 209.17H767.89V215.88H735.76zM596.54 215.88H607.25V222.6H596.54zM660.8 215.88H671.51V222.6H660.8zM714.34 215.88H725.05V222.6H714.34z"/>
<path fill="#00008f" d="M585.83 14.42H596.54V21.13H585.83zM575.12 27.85H585.83V34.56H575.12zM575.12 34.56H585.83V41.28H575.12zM564.41 47.99H575.12V54.71H564.41zM682.22 81.57H692.92V88.29H682.22zM639.38 95H650.09V101.72H639.38zM671.51 95H682.22V101.72H671.51zM521.57 101.72H542.99V108.43H521.57zM564.41 101.72H585.83V108.43H564.41zM457.32 108.43H468.03V115.15H457.32zM628.67 108.43H639.38V115.15H628.67zM553.7 115.15H564.41V121.87H553.7zM575.12 115.15H585.83V121.87H575.12zM607.25 115.15H617.96V121.87H607.25zM468.03 121.87H478.74V128.58H468.03zM639.38 121.87H650.09V128.58H639.38zM542.99 128.58H564.41V135.3H542.99zM585.83 135.3H596.54V142.01H585.83zM639.38 135.3H660.8V142.01H639.38zM553.7 142.01H564.41V148.73H553.7zM596.54 142.01H617.96V148.73H596.54zM435.9 148.73H446.61V155.44H435.9zM553.7 148.73H575.12V155.44H553.7zM596.54 148.73H617.96V155.44H596.54zM628.67 148.73H639.38V155.44H628.67zM650.09 148.73H660.8V155.44H650.09zM542.99 155.44H553.7V162.16H542.99zM575.12 155.44H596.54V162.16H575.12zM746.47 155.44H757.18V162.16H746.47zM767.89 155.44H778.6V162.16H767.89zM446.61 162.16H457.32V168.88H446.61zM542.99 162.16H553.7V168.88H542.99zM607.25 162.16H617.96V168.88H607.25zM628.67 162.16H639.38V168.88H628.67zM564.41 168.88H575.12V175.59H564.41zM746.47 168.88H757.18V175.59H746.47zM767.89 168.88H778.6V175.59H767.89zM596.54 175.59H607.25V182.31H596.54zM617.96 175.59H628.67V182.31H617.96zM703.63 175.59H725.05V182.31H703.63zM575.12 182.31H585.83V189.02H575.12zM735.76 182.31H746.47V189.02H735.76zM585.83 189.02H596.54V195.74H585.83zM607.25 189.02H617.96V195.74H607.25zM703.63 189.02H725.05V195.74H703.63zM532.28 195.74H542.99V202.45H532.28zM725.05 195.74H735.76V202.45H725.05zM575.12 202.45H596.54V209.17H575.12zM607.25 202.45H617.96V209.17H607.25zM671.51 202.45H692.92V209.17H671.51zM714.34 202.45H725.05V209.17H714.34zM714.34 209.17H735.76V215.88H714.34zM564.41 215.88H596.54V222.6H564.41z"/>
<path fill="#ff4000" d="M542.99 7.7H553.7V14.42H542.99zM564.41 7.7H575.12V14.42H564.41zM585.83 7.7H607.25V14.42H585.83zM628.67 7.7H639.38V14.42H628.67zM650.09 7.7H660.8V14.42H650.09zM671.51 7.7H692.92V14.42H671.51zM757.18 7.7H767.89V14.42H757.18zM660.8 14.42H671.51V21.13H660.8zM682.22 14.42H714.34V21.13H682.22zM478.74 21.13H500.16V27.85H478.74zM510.87 21.13H521.57V27.85H510.87zM585.83 21.13H639.38V27.85H585.83zM650.09 21.13H660.8V27.85H650.09zM671.51 21.13H682.22V27.85H671.51zM692.92 21.13H725.05V27.85H692.92zM757.18 21.13H767.89V27.85H757.18zM457.32 27.85H478.74V34.56H457.32zM660.8 27.85H692.92V34.56H660.8zM468.03 34.56H478.74V41.28H468.03zM489.45 34.56H510.87V41.28H489.45zM585.83 34.56H607.25V41.28H585.83zM617.96 34.56H628.67V41.28H617.96zM650.09 34.56H660.8V41.28H650.09zM703.63 34.56H714.34V41.28H703.63zM746.47 34.56H767.89V41.28H746.47zM457.32 41.28H478.74V47.99H457.32zM510.87 41.28H521.57V47.99H510.87zM532.28 41.28H542.99V47.99H532.28zM639.38 41.28H650.09V47.99H639.38zM682.22 41.28H692.92V47.99H682.22zM746.47 41.28H757.18V47.99H746.47zM446.61 47.99H457.32V54.71H446.61zM478.74 47.99H500.16V54.71H478.74zM607.25 47.99H628.67V54.71H607.25zM639.38 47.99H650.09V54.71H639.38zM671.51 47.99H692.92V54.71H671.51zM703.63 47.99H757.18V54.71H703.63zM767.89 47.99H778.6V54.71H767.89zM435.9 54.71H446.61V61.43H435.9zM468.03 54.71H478.74V61.43H468.03zM532.28 54.71H542.99V61.43H532.28zM628.67 54.71H639.38V61.43H628.67zM660.8 54.71H682.22V61.43H660.8zM746.47 54.71H757.18V61.43H746.47zM478.74 61.43H489.45V68.14H478.74zM585.83 61.43H596.54V68.14H585.83zM617.96 61.43H628.67V68.14H617.96zM639.38 61.43H660.8V68.14H639.38zM682.22 61.43H692.92V68.14H682.22zM714.34 61.43H735.76V68.14H714.34zM746.47 61.43H757.18V68.14H746.47zM767.89 61.43H778.6V68.14H767.89zM446.61 68.14H468.03V74.86H446.61zM489.45 68.14H510.87V74.86H489.45zM617.96 68.14H639.38V74.86H617.96zM725.05 68.14H735.76V74.86H725.05zM757.18 68.14H767.89V74.86H757.18zM446.61 74.86H457.32V81.57H446.61zM607.25 74.86H617.96V81.57H607.25zM639.38 74.86H660.8V81.57H639.38zM671.51 74.86H692.92V81.57H671.51zM703.63 74.86H725.05V81.57H703.63zM735.76 74.86H757.18V81.57H735.76zM446.61 81.57H457.32V88.29H446.61zM478.74 81.57H500.16V88.29H478.74zM714.34 81.57H725.05V88.29H714.34zM746.47 81.57H757.18V88.29H746.47zM457.32 88.29H478.74V95H457.32zM692.92 88.29H703.63V95H692.92zM725.05 88.29H735.76V95H725.05zM767.89 88.29H778.6V95H767.89zM435.9 95H446.61V101.72H435.9zM746.47 95H757.18V101.72H746.47zM650.09 101.72H660.8V108.43H650.09zM757.18 101.72H767.89V108.43H757.18zM725.05 108.43H746.47V115.15H725.05zM714.34 115.15H735.76V121.87H714.34zM757.18 115.15H767.89V121.87H757.18zM714.34 121.87H725.05V128.58H714.34zM639.38 128.58H650.09V135.3H639.38zM692.92 128.58H725.05V135.3H692.92zM746.47 128.58H757.18V135.3H746.47zM532.28 135.3H542.99V142.01H532.28zM692.92 135.3H703.63V142.01H692.92zM714.34 135.3H725.05V142.01H714.34zM489.45 142.01H500.16V148.73H489.45zM628.67 142.01H650.09V148.73H628.67zM692.92 142.01H725.05V148.73H692.92zM735.76 142.01H746.47V148.73H735.76zM468.03 148.73H478.74V155.44H468.03zM703.63 148.73H714.34V155.44H703.63zM478.74 155.44H489.45V162.16H478.74zM617.96 155.44H628.67V162.16H617.96zM639.38 155.44H650.09V162.16H639.38zM671.51 155.44H703.63V162.16H671.51zM725.05 155.44H735.76V162.16H725.05zM468.03 162.16H478.74V168.88H468.03zM767.89 162.16H778.6V168.88H767.89zM478.74 168.88H489.45V175.59H478.74zM628.67 168.88H639.38V175.59H628.67zM660.8 168.88H671.51V175.59H660.8zM703.63 168.88H725.05V175.59H703.63zM457.32 175.59H468.03V182.31H457.32zM660.8 175.59H671.51V182.31H660.8zM767.89 175.59H778.6V182.31H767.89zM446.61 182.31H457.32V189.02H446.61zM596.54 182.31H639.38V189.02H596.54zM650.09 182.31H660.8V189.02H650.09zM682.22 182.31H692.92V189.02H682.22zM446.61 189.02H457.32V195.74H446.61zM639.38 189.02H671.51V195.74H639.38zM746.47 189.02H757.18V195.74H746.47zM446.61 195.74H457.32V202.45H446.61zM585.83 195.74H617.96V202.45H585.83zM435.9 202.45H446.61V209.17H435.9zM521.57 202.45H532.28V209.17H521.57zM639.38 202.45H660.8V209.17H639.38zM746.47 202.45H757.18V209.17H746.47zM446.61 209.17H457.32V215.88H446.61zM575.12 209.17H585.83V215.88H575.12zM628.67 209.17H650.09V215.88H628.67zM521.57 215.88H542.99V222.6H521.57zM628.67 215.88H639.38V222.6H628.67zM650.09 215.88H660.8V222.6H650.09z"/>
<path fill="#800000" d="M671.51 41.28H682.22V47.99H671.51zM446.61 54.71H457.32V61.43H446.61zM703.63 95H714.34V101.72H703.63zM725.05 95H735.76V101.72H725.05zM725.05 101.72H735.76V108.43H725.05zM703.63 121.87H714.34V128.58H703.63zM692.92 168.88H703.63V175.59H692.92z"/>
</g>
<rect x="435.9" y="7.7" width="342.7" height="214.9" fill="none" stroke="#000" stroke-width="0.8"/>
<path d="M730.41 222.6v-3.2M730.41 7.7v3.2M435.9 192.38h3.2M778.6 192.38h-3.2M676.86 222.6v-3.2M676.86 7.7v3.2M435.9 158.8h3.2M778.6 158.8h-3.2M623.31 222.6v-3.2M623.31 7.7v3.2M435.9 125.22h3.2M778.6 125.22h-3.2M569.77 222.6v-3.2M569.77 7.7v3.2M435.9 91.65h3.2M778.6 91.65h-3.2M516.22 222.6v-3.2M516.22 7.7v3.2M435.9 58.07h3.2M778.6 58.07h-3.2M462.67 222.6v-3.2M462.67 7.7v3.2M435.9 24.49h3.2M778.6 24.49h-3.2" stroke="#000" stroke-width="0.8" fill="none"/>
<g font-family="'Liberation Sans',Arial,sans-serif" font-size="8.5" font-weight="bold" fill="#111">
<text x="730.41" y="233.8" text-anchor="middle">5</text>
<text x="432" y="195.38" text-anchor="end">5</text>
<text x="676.86" y="233.8" text-anchor="middle">10</text>
<text x="432" y="161.8" text-anchor="end">10</text>
<text x="623.31" y="233.8" text-anchor="middle">15</text>
<text x="432" y="128.22" text-anchor="end">15</text>
<text x="569.77" y="233.8" text-anchor="middle">20</text>
<text x="432" y="94.65" text-anchor="end">20</text>
<text x="516.22" y="233.8" text-anchor="middle">25</text>
<text x="432" y="61.07" text-anchor="end">25</text>
<text x="462.67" y="233.8" text-anchor="middle">30</text>
<text x="432" y="27.49" text-anchor="end">30</text>
</g>
<text font-family="'Liberation Sans',Arial,sans-serif" font-size="8.9" font-weight="bold" fill="#111" x="606" y="246.2" text-anchor="middle">x-direction</text>
<text font-family="'Liberation Sans',Arial,sans-serif" font-size="8.9" font-weight="bold" fill="#111" transform="translate(416.9 117.15) rotate(-90)" text-anchor="middle">y-direction</text>
<rect x="435.8" y="255.2" width="344" height="21.2" fill="url(#jet)" stroke="#000" stroke-width="0.8"/>
<g font-family="'Liberation Sans',Arial,sans-serif" font-size="8.3" font-weight="bold" fill="#111">
<text x="435.8" y="287.3" text-anchor="middle">5</text>
<text x="470.2" y="287.3" text-anchor="middle">5.5</text>
<text x="504.6" y="287.3" text-anchor="middle">6</text>
<text x="539" y="287.3" text-anchor="middle">6.5</text>
<text x="573.4" y="287.3" text-anchor="middle">7</text>
<text x="607.8" y="287.3" text-anchor="middle">7.5</text>
<text x="642.2" y="287.3" text-anchor="middle">8</text>
<text x="676.6" y="287.3" text-anchor="middle">8.5</text>
<text x="711" y="287.3" text-anchor="middle">9</text>
<text x="745.4" y="287.3" text-anchor="middle">9.5</text>
<text x="779.8" y="287.3" text-anchor="middle">10</text>
</g>
<path d="M470.2 276.4v-3M470.2 255.2v3M504.6 276.4v-3M504.6 255.2v3M539 276.4v-3M539 255.2v3M573.4 276.4v-3M573.4 255.2v3M607.8 276.4v-3M607.8 255.2v3M642.2 276.4v-3M642.2 255.2v3M676.6 276.4v-3M676.6 255.2v3M711 276.4v-3M711 255.2v3M745.4 276.4v-3M745.4 255.2v3" stroke="#000" stroke-width="0.8" fill="none"/>
<text font-family="'Liberation Serif','Times New Roman',serif" font-size="15.2" font-weight="bold" fill="#111" x="609.5" y="312.6" text-anchor="middle">(c)</text>
<g stroke="#0000f0" stroke-width="3.0" fill="none"><path d="M441.25 11.06L516.22 64.78"/><circle cx="441.25" cy="11.06" r="3.2"/><circle cx="516.22" cy="64.78" r="3.2"/></g>
<g stroke="#0000f0" stroke-width="3.0" fill="none"><path d="M708.99 91.65L773.25 145.37"/><circle cx="708.99" cy="91.65" r="3.2"/><circle cx="773.25" cy="145.37" r="3.2"/></g>
<g stroke="#0000f0" stroke-width="3.0" fill="none"><path d="M666.15 205.81L719.7 145.37"/><circle cx="666.15" cy="205.81" r="3.2"/><circle cx="719.7" cy="145.37" r="3.2"/></g>
<g stroke="#0000f0" stroke-width="3.0" fill="none"><path d="M494.8 219.24L559.06 165.52"/><circle cx="494.8" cy="219.24" r="3.2"/><circle cx="559.06" cy="165.52" r="3.2"/></g>
<text font-family="'Liberation Sans',Arial,sans-serif" font-size="7.8" font-weight="bold" fill="#000" x="431.65" y="7.76">HI3</text>
<text font-family="'Liberation Sans',Arial,sans-serif" font-size="7.8" font-weight="bold" fill="#000" x="763.65" y="142.07">HI1</text>
<text font-family="'Liberation Sans',Arial,sans-serif" font-size="7.8" font-weight="bold" fill="#000" x="656.55" y="202.51">HI4</text>
<text font-family="'Liberation Sans',Arial,sans-serif" font-size="7.8" font-weight="bold" fill="#000" x="485.2" y="215.94">HI5</text>
<g shape-rendering="crispEdges">
<rect x="435.9" y="338.2" width="342.7" height="214.9" fill="#efff10"/>
<path fill="#20ffdf" d="M457.32 338.2H468.03V344.92H457.32zM489.45 338.2H521.57V344.92H489.45zM553.7 338.2H585.83V344.92H553.7zM468.03 344.92H478.74V351.63H468.03zM489.45 344.92H500.16V351.63H489.45zM607.25 344.92H639.38V351.63H607.25zM671.51 344.92H682.22V351.63H671.51zM692.92 344.92H757.18V351.63H692.92zM457.32 351.63H489.45V358.35H457.32zM500.16 351.63H532.28V358.35H500.16zM553.7 351.63H575.12V358.35H553.7zM585.83 351.63H617.96V358.35H585.83zM746.47 351.63H757.18V358.35H746.47zM767.89 351.63H778.6V358.35H767.89zM435.9 358.35H446.61V365.06H435.9zM457.32 358.35H478.74V365.06H457.32zM500.16 358.35H510.87V365.06H500.16zM532.28 358.35H542.99V365.06H532.28zM639.38 358.35H650.09V365.06H639.38zM671.51 358.35H682.22V365.06H671.51zM692.92 358.35H703.63V365.06H692.92zM714.34 358.35H735.76V365.06H714.34zM446.61 365.06H468.03V371.78H446.61zM521.57 365.06H542.99V371.78H521.57zM575.12 365.06H617.96V371.78H575.12zM746.47 365.06H757.18V371.78H746.47zM767.89 365.06H778.6V371.78H767.89zM457.32 371.78H478.74V378.49H457.32zM489.45 371.78H500.16V378.49H489.45zM628.67 371.78H639.38V378.49H628.67zM650.09 371.78H660.8V378.49H650.09zM714.34 371.78H746.47V378.49H714.34zM435.9 378.49H457.32V385.21H435.9zM542.99 378.49H553.7V385.21H542.99zM596.54 378.49H607.25V385.21H596.54zM746.47 378.49H757.18V385.21H746.47zM767.89 378.49H778.6V385.21H767.89zM435.9 385.21H446.61V391.93H435.9zM478.74 385.21H489.45V391.93H478.74zM564.41 385.21H575.12V391.93H564.41zM596.54 385.21H607.25V391.93H596.54zM650.09 385.21H660.8V391.93H650.09zM682.22 385.21H692.92V391.93H682.22zM714.34 385.21H735.76V391.93H714.34zM746.47 385.21H757.18V391.93H746.47zM532.28 391.93H542.99V398.64H532.28zM607.25 391.93H617.96V398.64H607.25zM639.38 391.93H650.09V398.64H639.38zM746.47 391.93H757.18V398.64H746.47zM446.61 398.64H457.32V405.36H446.61zM468.03 398.64H478.74V405.36H468.03zM489.45 398.64H500.16V405.36H489.45zM585.83 398.64H628.67V405.36H585.83zM639.38 398.64H650.09V405.36H639.38zM660.8 398.64H682.22V405.36H660.8zM735.76 398.64H757.18V405.36H735.76zM532.28 405.36H542.99V412.07H532.28zM617.96 405.36H628.67V412.07H617.96zM650.09 405.36H660.8V412.07H650.09zM735.76 405.36H767.89V412.07H735.76zM575.12 412.07H585.83V418.79H575.12zM628.67 412.07H660.8V418.79H628.67zM725.05 412.07H746.47V418.79H725.05zM521.57 418.79H532.28V425.5H521.57zM564.41 418.79H575.12V425.5H564.41zM596.54 418.79H617.96V425.5H596.54zM628.67 418.79H639.38V425.5H628.67zM650.09 418.79H660.8V425.5H650.09zM757.18 418.79H767.89V425.5H757.18zM457.32 425.5H468.03V432.22H457.32zM607.25 425.5H650.09V432.22H607.25zM703.63 425.5H714.34V432.22H703.63zM510.87 432.22H532.28V438.93H510.87zM585.83 432.22H596.54V438.93H585.83zM607.25 432.22H639.38V438.93H607.25zM446.61 438.93H457.32V445.65H446.61zM489.45 438.93H500.16V445.65H489.45zM521.57 438.93H532.28V445.65H521.57zM596.54 438.93H628.67V445.65H596.54zM682.22 438.93H725.05V445.65H682.22zM510.87 445.65H521.57V452.37H510.87zM542.99 445.65H553.7V452.37H542.99zM585.83 445.65H596.54V452.37H585.83zM457.32 452.37H468.03V459.08H457.32zM478.74 452.37H500.16V459.08H478.74zM521.57 452.37H532.28V459.08H521.57zM542.99 452.37H553.7V459.08H542.99zM607.25 452.37H617.96V459.08H607.25zM692.92 452.37H703.63V459.08H692.92zM714.34 452.37H725.05V459.08H714.34zM435.9 459.08H446.61V465.8H435.9zM478.74 459.08H510.87V465.8H478.74zM521.57 459.08H532.28V465.8H521.57zM628.67 459.08H639.38V465.8H628.67zM767.89 459.08H778.6V465.8H767.89zM435.9 465.8H457.32V472.51H435.9zM468.03 465.8H478.74V472.51H468.03zM521.57 465.8H553.7V472.51H521.57zM596.54 465.8H617.96V472.51H596.54zM660.8 465.8H692.92V472.51H660.8zM510.87 472.51H532.28V479.23H510.87zM596.54 472.51H617.96V479.23H596.54zM746.47 472.51H778.6V479.23H746.47zM468.03 479.23H478.74V485.94H468.03zM510.87 479.23H521.57V485.94H510.87zM532.28 479.23H542.99V485.94H532.28zM585.83 479.23H607.25V485.94H585.83zM628.67 479.23H639.38V485.94H628.67zM650.09 479.23H682.22V485.94H650.09zM757.18 479.23H767.89V485.94H757.18zM500.16 485.94H521.57V492.66H500.16zM746.47 485.94H757.18V492.66H746.47zM767.89 485.94H778.6V492.66H767.89zM510.87 492.66H521.57V499.38H510.87zM532.28 492.66H542.99V499.38H532.28zM585.83 492.66H596.54V499.38H585.83zM607.25 492.66H628.67V499.38H607.25zM639.38 492.66H650.09V499.38H639.38zM746.47 492.66H778.6V499.38H746.47zM500.16 499.38H510.87V506.09H500.16zM585.83 499.38H596.54V506.09H585.83zM746.47 499.38H778.6V506.09H746.47zM521.57 506.09H542.99V512.81H521.57zM607.25 506.09H628.67V512.81H607.25zM639.38 506.09H660.8V512.81H639.38zM746.47 506.09H757.18V512.81H746.47zM489.45 512.81H500.16V519.52H489.45zM746.47 512.81H757.18V519.52H746.47zM435.9 519.52H446.61V526.24H435.9zM510.87 519.52H521.57V526.24H510.87zM564.41 519.52H575.12V526.24H564.41zM585.83 519.52H596.54V526.24H585.83zM607.25 519.52H617.96V526.24H607.25zM639.38 519.52H660.8V526.24H639.38zM735.76 519.52H746.47V526.24H735.76zM735.76 526.24H746.47V532.95H735.76zM757.18 526.24H767.89V532.95H757.18zM500.16 532.95H521.57V539.67H500.16zM532.28 532.95H542.99V539.67H532.28zM553.7 532.95H617.96V539.67H553.7zM628.67 532.95H650.09V539.67H628.67zM478.74 539.67H510.87V546.38H478.74zM585.83 539.67H607.25V546.38H585.83zM714.34 539.67H725.05V546.38H714.34zM510.87 546.38H521.57V553.1H510.87zM564.41 546.38H575.12V553.1H564.41zM596.54 546.38H607.25V553.1H596.54zM628.67 546.38H639.38V553.1H628.67zM757.18 546.38H767.89V553.1H757.18z"/>
<path fill="#0050ff" d="M521.57 338.2H553.7V344.92H521.57zM446.61 344.92H468.03V351.63H446.61zM532.28 351.63H542.99V358.35H532.28zM478.74 358.35H500.16V365.06H478.74zM628.67 358.35H639.38V365.06H628.67zM660.8 358.35H671.51V365.06H660.8zM682.22 358.35H692.92V365.06H682.22zM703.63 358.35H714.34V365.06H703.63zM468.03 365.06H478.74V371.78H468.03zM435.9 371.78H457.32V378.49H435.9zM478.74 371.78H489.45V378.49H478.74zM617.96 371.78H628.67V378.49H617.96zM660.8 371.78H671.51V378.49H660.8zM692.92 371.78H703.63V378.49H692.92zM457.32 378.49H468.03V385.21H457.32zM585.83 378.49H596.54V385.21H585.83zM446.61 385.21H457.32V391.93H446.61zM468.03 385.21H478.74V391.93H468.03zM489.45 385.21H500.16V391.93H489.45zM607.25 385.21H628.67V391.93H607.25zM660.8 385.21H682.22V391.93H660.8zM435.9 391.93H446.61V398.64H435.9zM585.83 391.93H607.25V398.64H585.83zM757.18 391.93H778.6V398.64H757.18zM435.9 398.64H446.61V405.36H435.9zM650.09 398.64H660.8V405.36H650.09zM435.9 405.36H446.61V412.07H435.9zM596.54 405.36H607.25V412.07H596.54zM617.96 418.79H628.67V425.5H617.96zM639.38 418.79H650.09V425.5H639.38zM596.54 432.22H607.25V438.93H596.54zM628.67 438.93H639.38V445.65H628.67zM500.16 445.65H510.87V452.37H500.16zM596.54 445.65H639.38V452.37H596.54zM682.22 452.37H692.92V459.08H682.22zM607.25 459.08H617.96V465.8H607.25zM650.09 465.8H660.8V472.51H650.09zM767.89 465.8H778.6V472.51H767.89zM585.83 472.51H596.54V479.23H585.83zM639.38 479.23H650.09V485.94H639.38zM767.89 479.23H778.6V485.94H767.89zM757.18 485.94H767.89V492.66H757.18zM628.67 492.66H639.38V499.38H628.67zM650.09 492.66H660.8V499.38H650.09zM500.16 512.81H510.87V519.52H500.16zM628.67 519.52H639.38V526.24H628.67zM489.45 526.24H500.16V532.95H489.45zM725.05 526.24H735.76V532.95H725.05zM617.96 532.95H628.67V539.67H617.96zM500.16 546.38H510.87V553.1H500.16zM553.7 546.38H564.41V553.1H553.7zM575.12 546.38H596.54V553.1H575.12zM617.96 546.38H628.67V553.1H617.96zM767.89 546.38H778.6V553.1H767.89z"/>
<path fill="#00008f" d="M446.61 358.35H457.32V365.06H446.61zM671.51 371.78H692.92V378.49H671.51zM585.83 405.36H596.54V412.07H585.83zM639.38 432.22H650.09V438.93H639.38zM585.83 459.08H607.25V465.8H585.83zM617.96 459.08H628.67V465.8H617.96z"/>
<path fill="#ff4000" d="M435.9 338.2H446.61V344.92H435.9zM585.83 338.2H596.54V344.92H585.83zM671.51 338.2H692.92V344.92H671.51zM703.63 338.2H714.34V344.92H703.63zM725.05 338.2H746.47V344.92H725.05zM542.99 344.92H553.7V351.63H542.99zM575.12 344.92H607.25V351.63H575.12zM650.09 344.92H671.51V351.63H650.09zM757.18 344.92H778.6V351.63H757.18zM435.9 351.63H446.61V358.35H435.9zM628.67 351.63H639.38V358.35H628.67zM682.22 351.63H692.92V358.35H682.22zM703.63 351.63H735.76V358.35H703.63zM510.87 358.35H532.28V365.06H510.87zM553.7 358.35H564.41V365.06H553.7zM542.99 365.06H553.7V371.78H542.99zM650.09 365.06H660.8V371.78H650.09zM682.22 365.06H692.92V371.78H682.22zM703.63 365.06H714.34V371.78H703.63zM510.87 371.78H521.57V378.49H510.87zM542.99 371.78H564.41V378.49H542.99zM585.83 371.78H596.54V378.49H585.83zM607.25 371.78H617.96V378.49H607.25zM746.47 371.78H757.18V378.49H746.47zM478.74 378.49H489.45V385.21H478.74zM510.87 378.49H532.28V385.21H510.87zM650.09 378.49H725.05V385.21H650.09zM510.87 385.21H521.57V391.93H510.87zM553.7 385.21H564.41V391.93H553.7zM628.67 385.21H639.38V391.93H628.67zM692.92 385.21H714.34V391.93H692.92zM735.76 385.21H746.47V391.93H735.76zM468.03 391.93H478.74V398.64H468.03zM489.45 391.93H500.16V398.64H489.45zM510.87 391.93H521.57V398.64H510.87zM542.99 391.93H564.41V398.64H542.99zM575.12 391.93H585.83V398.64H575.12zM628.67 391.93H639.38V398.64H628.67zM671.51 391.93H692.92V398.64H671.51zM725.05 391.93H735.76V398.64H725.05zM510.87 398.64H521.57V405.36H510.87zM564.41 398.64H575.12V405.36H564.41zM628.67 398.64H639.38V405.36H628.67zM692.92 398.64H703.63V405.36H692.92zM767.89 398.64H778.6V405.36H767.89zM457.32 405.36H478.74V412.07H457.32zM510.87 405.36H521.57V412.07H510.87zM542.99 405.36H575.12V412.07H542.99zM682.22 405.36H692.92V412.07H682.22zM725.05 405.36H735.76V412.07H725.05zM500.16 412.07H510.87V418.79H500.16zM521.57 412.07H532.28V418.79H521.57zM542.99 412.07H575.12V418.79H542.99zM746.47 412.07H757.18V418.79H746.47zM457.32 418.79H489.45V425.5H457.32zM510.87 418.79H521.57V425.5H510.87zM553.7 418.79H564.41V425.5H553.7zM671.51 418.79H714.34V425.5H671.51zM725.05 418.79H746.47V425.5H725.05zM435.9 425.5H446.61V432.22H435.9zM478.74 425.5H500.16V432.22H478.74zM521.57 425.5H542.99V432.22H521.57zM564.41 425.5H585.83V432.22H564.41zM650.09 425.5H660.8V432.22H650.09zM435.9 432.22H446.61V438.93H435.9zM468.03 432.22H478.74V438.93H468.03zM489.45 432.22H500.16V438.93H489.45zM660.8 432.22H703.63V438.93H660.8zM725.05 432.22H735.76V438.93H725.05zM746.47 432.22H767.89V438.93H746.47zM510.87 438.93H521.57V445.65H510.87zM532.28 438.93H542.99V445.65H532.28zM564.41 438.93H575.12V445.65H564.41zM639.38 438.93H660.8V445.65H639.38zM746.47 438.93H767.89V445.65H746.47zM553.7 445.65H564.41V452.37H553.7zM575.12 445.65H585.83V452.37H575.12zM650.09 445.65H671.51V452.37H650.09zM692.92 445.65H703.63V452.37H692.92zM714.34 445.65H735.76V452.37H714.34zM746.47 445.65H757.18V452.37H746.47zM585.83 452.37H596.54V459.08H585.83zM650.09 452.37H660.8V459.08H650.09zM725.05 452.37H757.18V459.08H725.05zM542.99 459.08H553.7V465.8H542.99zM639.38 459.08H660.8V465.8H639.38zM682.22 459.08H692.92V465.8H682.22zM703.63 459.08H746.47V465.8H703.63zM564.41 465.8H585.83V472.51H564.41zM639.38 465.8H650.09V472.51H639.38zM692.92 465.8H703.63V472.51H692.92zM714.34 465.8H757.18V472.51H714.34zM489.45 472.51H500.16V479.23H489.45zM532.28 472.51H553.7V479.23H532.28zM564.41 472.51H585.83V479.23H564.41zM639.38 472.51H650.09V479.23H639.38zM671.51 472.51H692.92V479.23H671.51zM703.63 472.51H725.05V479.23H703.63zM735.76 472.51H746.47V479.23H735.76zM500.16 479.23H510.87V485.94H500.16zM553.7 479.23H564.41V485.94H553.7zM682.22 479.23H692.92V485.94H682.22zM703.63 479.23H757.18V485.94H703.63zM446.61 485.94H468.03V492.66H446.61zM478.74 485.94H489.45V492.66H478.74zM532.28 485.94H542.99V492.66H532.28zM564.41 485.94H585.83V492.66H564.41zM607.25 485.94H650.09V492.66H607.25zM660.8 485.94H682.22V492.66H660.8zM692.92 485.94H703.63V492.66H692.92zM435.9 492.66H446.61V499.38H435.9zM468.03 492.66H500.16V499.38H468.03zM521.57 492.66H532.28V499.38H521.57zM682.22 492.66H692.92V499.38H682.22zM703.63 492.66H714.34V499.38H703.63zM725.05 492.66H746.47V499.38H725.05zM468.03 499.38H489.45V506.09H468.03zM521.57 499.38H532.28V506.09H521.57zM542.99 499.38H553.7V506.09H542.99zM564.41 499.38H575.12V506.09H564.41zM596.54 499.38H639.38V506.09H596.54zM650.09 499.38H660.8V506.09H650.09zM682.22 499.38H692.92V506.09H682.22zM714.34 499.38H735.76V506.09H714.34zM468.03 506.09H478.74V512.81H468.03zM500.16 506.09H510.87V512.81H500.16zM682.22 506.09H703.63V512.81H682.22zM725.05 506.09H735.76V512.81H725.05zM767.89 506.09H778.6V512.81H767.89zM457.32 512.81H468.03V519.52H457.32zM521.57 512.81H542.99V519.52H521.57zM553.7 512.81H585.83V519.52H553.7zM596.54 512.81H628.67V519.52H596.54zM639.38 512.81H692.92V519.52H639.38zM703.63 512.81H714.34V519.52H703.63zM767.89 512.81H778.6V519.52H767.89zM446.61 519.52H468.03V526.24H446.61zM660.8 519.52H725.05V526.24H660.8zM435.9 526.24H446.61V532.95H435.9zM468.03 526.24H478.74V532.95H468.03zM521.57 526.24H532.28V532.95H521.57zM553.7 526.24H575.12V532.95H553.7zM596.54 526.24H607.25V532.95H596.54zM617.96 526.24H628.67V532.95H617.96zM692.92 526.24H703.63V532.95H692.92zM435.9 532.95H446.61V539.67H435.9zM468.03 532.95H478.74V539.67H468.03zM489.45 532.95H500.16V539.67H489.45zM671.51 532.95H682.22V539.67H671.51zM692.92 532.95H703.63V539.67H692.92zM725.05 532.95H735.76V539.67H725.05zM746.47 532.95H767.89V539.67H746.47zM510.87 539.67H521.57V546.38H510.87zM553.7 539.67H585.83V546.38H553.7zM607.25 539.67H650.09V546.38H607.25zM682.22 539.67H703.63V546.38H682.22zM725.05 539.67H735.76V546.38H725.05zM435.9 546.38H468.03V553.1H435.9zM478.74 546.38H489.45V553.1H478.74zM650.09 546.38H660.8V553.1H650.09zM703.63 546.38H725.05V553.1H703.63zM735.76 546.38H757.18V553.1H735.76z"/>
<path fill="#800000" d="M692.92 338.2H703.63V344.92H692.92zM575.12 358.35H585.83V365.06H575.12zM725.05 365.06H735.76V371.78H725.05zM532.28 398.64H542.99V405.36H532.28zM692.92 405.36H714.34V412.07H692.92zM510.87 412.07H521.57V418.79H510.87zM500.16 418.79H510.87V425.5H500.16zM500.16 425.5H510.87V432.22H500.16zM542.99 425.5H553.7V432.22H542.99zM757.18 425.5H778.6V432.22H757.18zM703.63 432.22H714.34V438.93H703.63zM735.76 438.93H746.47V445.65H735.76zM671.51 445.65H692.92V452.37H671.51zM575.12 452.37H585.83V459.08H575.12zM692.92 459.08H703.63V465.8H692.92zM489.45 465.8H500.16V472.51H489.45zM692.92 472.51H703.63V479.23H692.92zM564.41 479.23H575.12V485.94H564.41zM682.22 485.94H692.92V492.66H682.22zM714.34 485.94H725.05V492.66H714.34zM457.32 499.38H468.03V506.09H457.32zM660.8 499.38H682.22V506.09H660.8zM692.92 499.38H714.34V506.09H692.92zM457.32 506.09H468.03V512.81H457.32zM692.92 512.81H703.63V519.52H692.92zM725.05 519.52H735.76V526.24H725.05zM575.12 526.24H585.83V532.95H575.12zM628.67 526.24H650.09V532.95H628.67zM671.51 526.24H692.92V532.95H671.51zM446.61 532.95H457.32V539.67H446.61zM682.22 532.95H692.92V539.67H682.22zM703.63 532.95H725.05V539.67H703.63z"/>
</g>
<rect x="435.9" y="338.2" width="342.7" height="214.9" fill="none" stroke="#000" stroke-width="0.8"/>
<path d="M730.41 553.1v-3.2M730.41 338.2v3.2M435.9 522.88h3.2M778.6 522.88h-3.2M676.86 553.1v-3.2M676.86 338.2v3.2M435.9 489.3h3.2M778.6 489.3h-3.2M623.31 553.1v-3.2M623.31 338.2v3.2M435.9 455.72h3.2M778.6 455.72h-3.2M569.77 553.1v-3.2M569.77 338.2v3.2M435.9 422.15h3.2M778.6 422.15h-3.2M516.22 553.1v-3.2M516.22 338.2v3.2M435.9 388.57h3.2M778.6 388.57h-3.2M462.67 553.1v-3.2M462.67 338.2v3.2M435.9 354.99h3.2M778.6 354.99h-3.2" stroke="#000" stroke-width="0.8" fill="none"/>
<g font-family="'Liberation Sans',Arial,sans-serif" font-size="8.5" font-weight="bold" fill="#111">
<text x="730.41" y="564.7" text-anchor="middle">5</text>
<text x="432" y="525.88" text-anchor="end">5</text>
<text x="676.86" y="564.7" text-anchor="middle">10</text>
<text x="432" y="492.3" text-anchor="end">10</text>
<text x="623.31" y="564.7" text-anchor="middle">15</text>
<text x="432" y="458.72" text-anchor="end">15</text>
<text x="569.77" y="564.7" text-anchor="middle">20</text>
<text x="432" y="425.15" text-anchor="end">20</text>
<text x="516.22" y="564.7" text-anchor="middle">25</text>
<text x="432" y="391.57" text-anchor="end">25</text>
<text x="462.67" y="564.7" text-anchor="middle">30</text>
<text x="432" y="357.99" text-anchor="end">30</text>
</g>
<text font-family="'Liberation Sans',Arial,sans-serif" font-size="8.9" font-weight="bold" fill="#111" x="606" y="576.3" text-anchor="middle">x-direction</text>
<text font-family="'Liberation Sans',Arial,sans-serif" font-size="8.9" font-weight="bold" fill="#111" transform="translate(416.9 447.65) rotate(-90)" text-anchor="middle">y-direction</text>
<rect x="435.8" y="585.9" width="344" height="20.9" fill="url(#jet)" stroke="#000" stroke-width="0.8"/>
<g font-family="'Liberation Sans',Arial,sans-serif" font-size="8.3" font-weight="bold" fill="#111">
<text x="435.8" y="617.6" text-anchor="middle">5</text>
<text x="470.2" y="617.6" text-anchor="middle">5.5</text>
<text x="504.6" y="617.6" text-anchor="middle">6</text>
<text x="539" y="617.6" text-anchor="middle">6.5</text>
<text x="573.4" y="617.6" text-anchor="middle">7</text>
<text x="607.8" y="617.6" text-anchor="middle">7.5</text>
<text x="642.2" y="617.6" text-anchor="middle">8</text>
<text x="676.6" y="617.6" text-anchor="middle">8.5</text>
<text x="711" y="617.6" text-anchor="middle">9</text>
<text x="745.4" y="617.6" text-anchor="middle">9.5</text>
<text x="779.8" y="617.6" text-anchor="middle">10</text>
</g>
<path d="M470.2 606.8v-3M470.2 585.9v3M504.6 606.8v-3M504.6 585.9v3M539 606.8v-3M539 585.9v3M573.4 606.8v-3M573.4 585.9v3M607.8 606.8v-3M607.8 585.9v3M642.2 606.8v-3M642.2 585.9v3M676.6 606.8v-3M676.6 585.9v3M711 606.8v-3M711 585.9v3M745.4 606.8v-3M745.4 585.9v3" stroke="#000" stroke-width="0.8" fill="none"/>
<text font-family="'Liberation Serif','Times New Roman',serif" font-size="15.2" font-weight="bold" fill="#111" x="609.5" y="641.9" text-anchor="middle">(d)</text>
<g stroke="#000000" stroke-width="3.0" fill="none"><path d="M441.25 341.56L516.22 395.28"/><circle cx="441.25" cy="341.56" r="3.2"/><circle cx="516.22" cy="395.28" r="3.2"/></g>
<g stroke="#000000" stroke-width="3.0" fill="none"><path d="M708.99 422.15L773.25 475.87"/><circle cx="708.99" cy="422.15" r="3.2"/><circle cx="773.25" cy="475.87" r="3.2"/></g>
<g stroke="#000000" stroke-width="3.0" fill="none"><path d="M666.15 536.31L719.7 475.87"/><circle cx="666.15" cy="536.31" r="3.2"/><circle cx="719.7" cy="475.87" r="3.2"/></g>
<g stroke="#000000" stroke-width="3.0" fill="none"><path d="M494.8 549.74L559.06 496.02"/><circle cx="494.8" cy="549.74" r="3.2"/><circle cx="559.06" cy="496.02" r="3.2"/></g>
<text font-family="'Liberation Sans',Arial,sans-serif" font-size="7.8" font-weight="bold" fill="#000" x="431.65" y="338.26">HP3</text>
<text font-family="'Liberation Sans',Arial,sans-serif" font-size="7.8" font-weight="bold" fill="#000" x="763.65" y="472.57">HP1</text>
<text font-family="'Liberation Sans',Arial,sans-serif" font-size="7.8" font-weight="bold" fill="#000" x="656.55" y="533.01">HP4</text>
<text font-family="'Liberation Sans',Arial,sans-serif" font-size="7.8" font-weight="bold" fill="#000" x="485.2" y="546.44">HP5</text>
</svg>
</body></html>
